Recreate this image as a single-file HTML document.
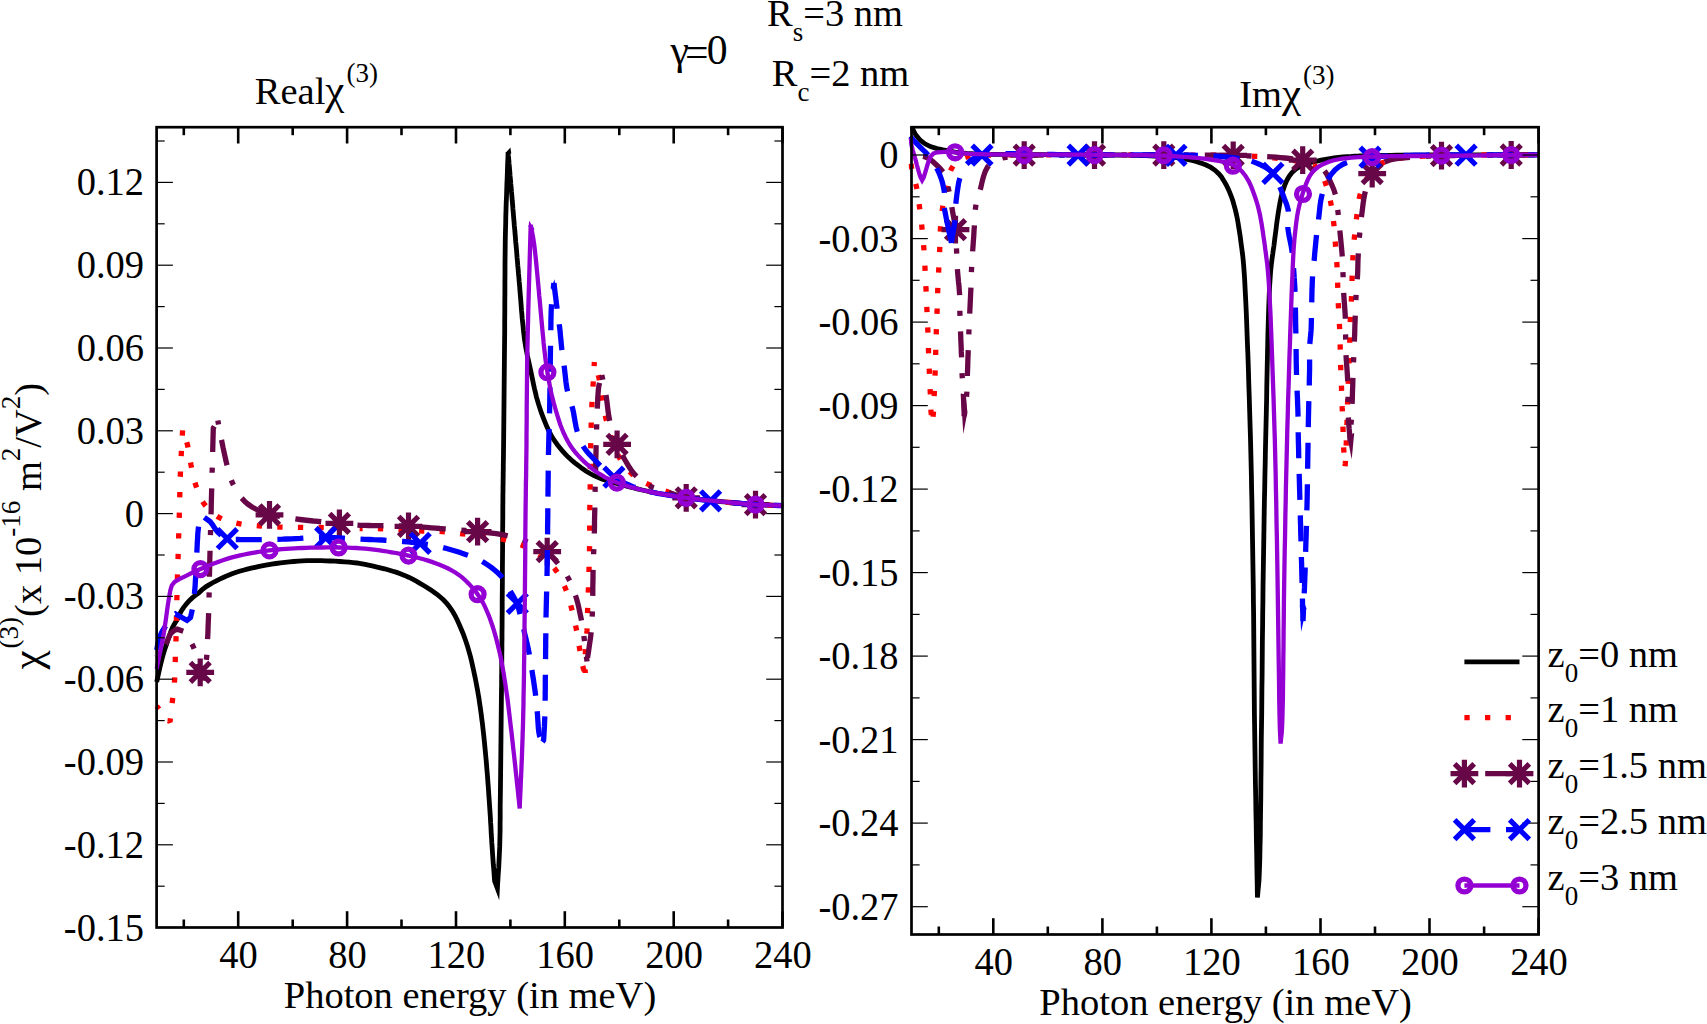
<!DOCTYPE html>
<html lang="en"><head><meta charset="utf-8"><title>Third-order susceptibility versus photon energy</title>
<style>html,body{margin:0;padding:0;background:#fff}body{width:1707px;height:1024px;overflow:hidden}</style>
</head><body>
<svg width="1707" height="1024" viewBox="0 0 1707 1024" style="display:block;font-family:'Liberation Serif', 'DejaVu Serif', serif;font-size:38.5px" fill="#000">
<rect width="1707" height="1024" fill="#fff"/>
<defs>
<clipPath id="cl"><rect x="153.6" y="127.2" width="629.9" height="800.3"/></clipPath>
<clipPath id="cr"><rect x="908.5" y="127.2" width="631.1" height="807.3"/></clipPath>
</defs>
<g clip-path="url(#cl)" fill="none" stroke-miterlimit="10">
<polyline stroke="#000000" stroke-width="4.8" stroke-linejoin="miter" points="156.7,682.0 157.8,677.0 158.9,672.0 160.0,667.0 161.2,662.2 162.4,657.4 163.7,652.8 165.0,648.6 166.4,644.6 167.8,640.5 169.3,635.9 170.9,631.3 172.6,627.2 174.7,623.5 176.9,620.0 179.0,615.6 181.3,611.0 183.7,607.4 186.5,603.8 189.5,600.5 192.5,597.7 195.7,595.2 198.8,592.8 202.2,589.7 206.2,586.6 209.0,584.9 212.2,583.0 215.8,581.1 219.7,579.1 223.8,577.2 227.9,575.4 232.0,573.8 235.6,572.5 239.4,571.3 243.2,570.2 247.2,569.2 251.2,568.2 255.2,567.3 259.2,566.4 263.2,565.6 267.2,564.9 271.6,564.1 276.0,563.5 280.5,562.9 285.0,562.3 289.4,561.9 293.8,561.5 298.1,561.2 302.3,560.9 307.2,560.7 312.0,560.6 316.7,560.6 321.3,560.7 325.7,560.9 330.0,561.0 335.1,561.2 339.9,561.5 344.6,561.8 349.2,562.2 353.1,562.6 356.9,563.0 360.7,563.6 365.1,564.4 368.5,565.1 372.2,565.9 376.1,566.8 380.3,567.8 384.5,568.8 388.7,570.0 392.8,571.2 396.7,572.4 400.3,573.7 404.6,575.4 408.6,577.2 412.6,579.2 416.3,581.2 420.0,583.3 423.7,585.5 427.3,587.7 430.9,590.1 434.4,592.5 437.7,594.9 440.8,597.5 443.6,600.0 446.5,603.1 449.0,606.1 451.2,609.3 453.4,612.8 455.3,616.2 457.1,619.7 458.8,623.5 460.4,627.2 462.0,631.0 463.5,634.7 464.8,638.3 466.1,642.0 467.4,646.0 468.7,650.3 469.6,653.7 470.6,657.2 471.5,661.0 472.4,665.0 473.3,669.0 474.2,673.2 475.1,677.4 475.9,681.6 476.7,685.8 477.5,690.0 478.2,694.1 478.9,698.2 479.5,702.3 480.1,706.4 480.7,710.6 481.3,714.9 481.8,719.1 482.4,723.5 482.9,727.9 483.4,732.4 483.9,736.9 484.4,741.9 484.9,747.0 485.4,752.2 485.9,757.6 486.4,763.0 486.8,768.4 487.3,773.9 487.7,779.3 488.1,784.7 488.5,789.9 488.8,795.0 489.2,800.0 489.5,804.6 489.8,809.0 490.1,813.5 490.4,817.9 490.6,822.2 490.9,826.5 491.1,830.7 491.3,834.8 491.6,838.9 491.8,842.9 492.1,846.9 492.4,851.4 492.7,855.8 493.0,860.1 493.3,864.3 493.7,868.5 494.0,872.6 494.3,876.8 494.6,881.0 497.4,888.5 497.6,884.4 497.9,880.2 498.1,876.1 498.4,872.0 498.7,867.9 498.9,863.7 499.1,859.6 499.3,855.4 499.5,851.2 499.7,846.9 499.8,842.8 499.9,838.8 500.0,834.8 500.1,830.9 500.1,826.9 500.1,822.8 500.2,818.6 500.2,814.3 500.2,809.8 500.2,805.0 500.3,800.0 500.4,792.4 500.5,784.1 500.6,775.2 500.7,765.8 500.8,756.2 500.9,746.3 501.0,736.4 501.1,726.5 501.2,716.8 501.3,707.4 501.4,698.4 501.5,690.0 501.6,683.7 501.6,677.6 501.7,671.8 501.7,666.2 501.8,660.7 501.8,655.2 501.9,649.7 501.9,644.1 502.0,638.4 502.0,632.6 502.1,626.4 502.1,620.0 502.2,610.9 502.2,601.1 502.3,590.8 502.4,580.0 502.4,569.0 502.5,558.0 502.6,547.1 502.6,536.4 502.7,526.2 502.8,516.7 502.8,507.9 502.9,500.0 502.9,495.2 503.0,491.0 503.0,487.1 503.1,483.5 503.1,480.0 503.2,476.5 503.2,472.9 503.3,469.0 503.3,464.8 503.4,460.0 503.5,452.2 503.6,443.7 503.7,434.4 503.8,424.6 503.9,414.3 504.0,403.7 504.1,392.9 504.2,382.0 504.3,371.1 504.4,360.4 504.5,350.0 504.6,340.0 504.7,330.6 504.7,321.2 504.8,311.7 504.8,302.3 504.9,292.9 504.9,283.5 505.0,274.3 505.0,265.1 505.1,256.1 505.2,247.2 505.3,238.5 505.5,230.0 505.7,223.0 505.8,216.2 506.0,209.6 506.2,203.0 506.5,196.6 506.7,190.2 506.9,183.8 507.2,177.5 507.4,171.2 507.6,164.8 507.9,158.5 508.1,152.0 508.4,156.0 508.8,160.0 509.1,164.0 509.5,168.0 509.8,172.0 510.1,176.0 510.5,180.0 510.8,184.0 511.2,188.0 511.5,192.0 511.9,196.1 512.2,200.3 512.6,204.5 512.9,208.7 513.3,212.9 513.6,217.1 514.0,221.2 514.3,225.2 514.7,229.2 515.0,233.0 515.4,237.4 515.7,241.7 516.1,245.8 516.5,249.9 516.8,253.9 517.1,257.9 517.5,262.0 517.8,266.0 518.2,270.0 518.5,273.9 518.9,277.9 519.2,281.9 519.6,285.9 519.9,290.0 520.2,293.9 520.6,298.0 520.9,302.1 521.2,306.2 521.5,310.4 521.9,314.4 522.2,318.3 522.6,322.0 523.1,326.6 523.5,331.0 524.0,335.2 524.5,339.5 525.2,343.9 525.9,348.0 526.7,352.1 527.5,356.2 528.5,360.5 529.4,364.8 530.4,369.3 531.2,373.0 532.0,376.8 532.8,380.7 533.6,384.7 534.5,388.8 535.5,392.8 536.4,396.8 537.5,400.6 538.6,404.4 540.1,408.9 541.6,413.4 543.3,417.8 545.0,422.1 546.7,426.3 548.5,430.1 550.3,433.7 552.6,437.8 555.0,441.4 557.4,444.7 560.0,448.0 562.6,451.2 565.3,454.2 568.2,457.1 571.4,460.0 574.8,462.8 578.5,465.7 582.3,468.6 586.2,471.2 590.0,473.5 594.0,475.6 597.9,477.4 601.8,478.9 605.5,480.3 611.0,482.0 616.9,483.5 620.4,484.4 624.2,485.5 628.4,486.6 632.8,487.7 637.4,488.9 642.0,490.0 646.6,491.0 650.3,491.8 654.2,492.5 658.1,493.3 662.2,494.0 666.2,494.7 670.3,495.4 674.4,496.0 678.4,496.7 682.3,497.2 686.2,497.8 690.5,498.4 694.8,498.9 699.0,499.4 703.2,499.8 707.4,500.3 711.5,500.7 715.8,501.1 720.0,501.5 724.4,501.9 728.9,502.4 733.4,502.8 738.0,503.2 742.5,503.6 746.9,504.0 751.3,504.3 755.5,504.6 760.3,504.9 765.0,505.1 769.6,505.2 774.2,505.4 778.7,505.5 783.3,505.7"/>
<polygon fill="#000000" stroke="none" points="505.7,152.8 510.4,147.5 511.3,153.5"/>
</g>
<g clip-path="url(#cl)" fill="none" stroke-miterlimit="10">
<polyline stroke="#ff0000" stroke-width="5.3" stroke-linejoin="bevel" stroke-dasharray="5.3 15.3" stroke-dashoffset="1.4" points="156.7,706.0 159.8,710.0 163.0,714.0 166.5,718.0 170.0,722.0 170.5,717.6 171.0,713.2 171.5,708.7 172.0,704.3 172.5,700.0 173.0,695.9 173.4,691.9 173.9,687.9 174.3,683.8 174.6,679.8 174.8,675.7 175.0,671.5 175.1,667.3 175.2,663.1 175.3,659.0 175.4,655.1 175.6,651.2 175.7,647.4 175.9,643.3 176.0,638.8 176.1,635.3 176.2,631.7 176.3,628.0 176.3,624.0 176.4,620.0 176.5,615.8 176.6,611.5 176.7,607.0 176.8,602.4 176.9,597.6 177.1,591.7 177.2,585.2 177.4,578.5 177.6,571.4 177.9,564.1 178.1,556.7 178.3,549.4 178.5,542.0 178.7,534.9 178.9,528.0 179.1,521.5 179.3,515.4 179.4,510.8 179.5,506.3 179.6,502.0 179.7,497.8 179.8,493.7 179.9,489.7 180.0,485.7 180.1,481.8 180.2,477.9 180.4,474.0 180.5,470.0 180.7,465.9 180.9,461.8 181.1,457.8 181.3,453.8 181.5,449.8 181.7,445.9 181.9,441.9 182.2,438.0 182.4,434.0 182.6,430.0"/>
<polyline stroke="#ff0000" stroke-width="5.3" stroke-linejoin="bevel" stroke-dasharray="5.3 15.3" stroke-dashoffset="7.6" points="182.6,430.0 184.3,434.9 186.0,439.7 187.5,444.9 188.3,448.7 189.0,452.7 189.6,456.8 190.3,460.9 191.0,465.0 191.8,469.0 192.6,473.0 193.5,477.0 194.5,481.0 195.7,484.9 197.0,488.8 198.4,492.7 200.0,496.6 201.8,500.3 203.9,503.7 207.0,507.6 210.5,511.2 214.4,514.5 218.5,517.2 222.1,519.0 225.9,520.4 229.8,521.6 233.9,522.5 237.9,523.4 241.9,524.1 246.0,524.7 250.1,525.1 254.3,525.5 258.4,525.8 262.4,526.1 266.3,526.4 270.2,526.6 274.3,526.8 278.9,527.0 282.4,527.1 286.2,527.2 290.2,527.2 294.3,527.3 298.5,527.3 302.8,527.3 307.2,527.4 311.5,527.4 315.7,527.4 319.9,527.5 324.0,527.6 328.1,527.7 332.2,527.8 336.3,527.9 340.4,528.0 344.6,528.1 348.7,528.3 352.8,528.4 356.9,528.5 361.0,528.6"/>
<polyline stroke="#ff0000" stroke-width="5.3" stroke-linejoin="bevel" stroke-dasharray="5.3 15.3" stroke-dashoffset="3.7" points="361.0,528.6 365.0,528.6 368.9,528.6 372.9,528.6 377.0,528.7 381.6,528.8 385.2,528.9 389.1,529.1 393.3,529.3 397.7,529.6 402.1,529.9 406.6,530.1 410.9,530.4 415.1,530.6 419.0,530.8 422.6,531.0 428.1,531.2 433.0,531.2 437.7,531.3 442.5,531.6 446.5,532.0 450.5,532.4 454.5,532.9 458.5,533.4 462.4,533.9 466.8,534.4 471.1,534.9 475.4,535.4 480.0,536.0 484.5,536.6 489.3,537.2 494.2,537.8 499.0,538.6 503.5,539.5 508.2,540.7 512.8,541.9 517.2,543.4 521.6,545.1 526.1,547.1 530.6,549.3 535.0,551.7 539.2,554.5 542.6,557.0 546.0,559.8 549.2,562.7 552.2,565.8 555.0,569.1 557.4,572.5 559.6,576.0 561.5,579.7 563.3,583.5 565.0,587.3 566.5,591.1 567.8,595.1 569.0,599.0 570.1,603.0 571.2,607.0 572.3,611.0 573.2,614.9 574.2,618.9 575.1,622.9 575.9,626.9 576.7,631.0 577.4,635.0 578.0,639.1 578.7,643.3 579.4,647.4 580.2,652.0 581.0,656.8 581.9,661.6 582.7,665.8 583.5,669.0 585.2,673.0"/>
<polyline stroke="#ff0000" stroke-width="5.3" stroke-linejoin="bevel" stroke-dasharray="5.3 15.3" stroke-dashoffset="1.9" points="585.2,673.0 585.2,668.6 585.2,664.1 585.2,659.7 585.3,655.3 585.4,650.9 585.6,646.7 586.0,642.6 586.4,638.5 586.7,634.5 587.0,630.4 587.2,625.4 587.3,620.5 587.5,615.5 587.6,610.5 587.7,606.4 587.9,602.4 588.1,598.4 588.2,594.1 588.4,589.4 588.5,585.9 588.6,582.1 588.8,578.2 588.9,574.1 589.0,569.9 589.1,565.7 589.2,561.4 589.3,557.1 589.4,552.9 589.5,548.8 589.6,544.6 589.6,540.4 589.6,536.0 589.7,531.7 589.7,527.4 589.7,523.1 589.7,519.0 589.7,515.0 589.8,511.2 589.8,507.7 589.9,503.2 590.0,499.3 590.0,495.5 590.1,491.5 590.2,487.0 590.2,483.4 590.3,479.6 590.3,475.6 590.4,471.4 590.4,467.1 590.5,462.7 590.5,458.4 590.6,454.0 590.6,449.7 590.7,445.5 590.8,441.4 590.9,437.1 591.0,432.9 591.1,428.6 591.2,424.4 591.3,420.2 591.5,416.1 591.6,412.2 591.8,408.5 591.9,405.0 592.1,400.5 592.4,396.3 592.6,392.4 592.9,388.6 593.1,384.5 593.4,380.1 593.6,375.6 593.9,371.1 594.1,366.5 594.4,362.0"/>
<polyline stroke="#ff0000" stroke-width="5.3" stroke-linejoin="bevel" stroke-dasharray="5.3 15.3" stroke-dashoffset="7.0" points="594.4,362.0 595.6,365.8 596.8,369.6 597.9,373.5 598.9,377.5 599.6,381.4 600.2,385.5 600.7,389.7 601.2,393.9 601.8,398.0 602.5,402.1 603.3,406.3 604.1,410.4 605.0,414.5 605.9,418.5 607.1,423.2 608.3,427.9 609.6,432.4 611.0,437.0 612.5,441.6 614.2,446.2 616.0,450.7 618.0,455.0 620.2,459.0 622.6,462.9 625.2,466.6 628.0,470.0 631.6,473.7 635.6,477.0 640.0,480.0 643.5,482.0 647.4,483.9 651.5,485.7 655.7,487.4 660.0,489.0 664.1,490.5 668.3,492.0 672.6,493.4 677.0,494.7 681.6,495.9 686.2,497.0 690.2,497.8 694.3,498.5 698.5,499.1 702.7,499.6 707.0,500.1 711.4,500.6 715.7,501.0 720.0,501.5 724.4,502.0 728.9,502.4 733.4,502.9 738.0,503.3 742.5,503.6 746.9,504.0 751.3,504.3 755.5,504.6 760.3,504.9 765.0,505.1 769.6,505.2 774.2,505.4 778.7,505.5 783.3,505.7"/>
</g>
<g clip-path="url(#cl)" fill="none" stroke-miterlimit="10">
<polyline stroke="#670748" stroke-width="5.3" stroke-linejoin="miter" stroke-dasharray="26 15.6 5.2 15.6" stroke-dashoffset="46.4" points="156.7,657.0 160.0,650.0 163.0,647.1 166.0,644.0 168.2,638.7 170.5,633.7 173.7,630.8 177.3,629.2 183.5,631.3 188.0,637.0 190.7,641.4 193.1,646.3 194.6,650.0 195.8,653.9 197.0,658.0 198.1,662.8 199.1,667.8 200.2,672.3 201.6,676.6 203.0,680.5"/>
<polyline stroke="#670748" stroke-width="5.3" stroke-linejoin="miter" stroke-dasharray="26 15.6 5.2 15.6" stroke-dashoffset="20.7" points="203.0,680.5 203.8,675.7 204.6,670.9 205.4,666.1 206.1,661.4 206.7,656.9 207.1,652.3 207.3,647.9 207.4,643.5 207.6,638.8 207.8,634.8 208.0,630.5 208.1,626.1 208.3,621.7 208.5,617.5 208.6,613.4 208.7,608.7 208.9,604.3 209.0,599.9 209.1,594.9 209.2,591.1 209.3,587.0 209.3,582.8 209.4,578.4 209.5,573.9 209.6,569.3 209.7,564.6 209.8,560.0 209.9,556.2 210.0,552.4 210.1,548.6 210.2,544.8 210.3,540.9 210.4,537.0 210.5,532.9 210.6,528.8 210.8,524.5 210.9,520.0 211.0,515.4 211.2,509.1 211.3,502.5 211.5,495.6 211.7,488.5 211.9,481.1 212.1,473.6 212.3,465.9 212.5,458.3 212.7,450.6 212.9,443.0 213.1,435.5 213.3,428.1 217.8,420.5"/>
<polyline stroke="#670748" stroke-width="5.3" stroke-linejoin="miter" stroke-dasharray="26 15.6 5.2 15.6" stroke-dashoffset="42.7" points="217.8,420.5 218.7,425.3 219.6,430.0 220.5,434.8 221.5,439.8 222.3,443.7 223.1,447.8 224.0,451.9 224.9,456.0 225.8,460.1 226.7,463.9 227.9,468.7 229.0,473.3 230.4,477.7 232.0,482.0 234.0,486.2 236.3,490.4 238.7,494.3 241.4,497.8 244.6,501.3 248.1,504.3 252.0,507.0 256.0,509.2 260.4,511.1 265.0,512.9 269.5,514.8"/>
<polyline stroke="#670748" stroke-width="5.3" stroke-linejoin="miter" stroke-dasharray="26 15.6 5.2 15.6" stroke-dashoffset="36.2" points="269.5,514.8 273.8,515.5 278.1,516.2 282.4,516.9 286.6,517.6 291.0,518.2 295.4,518.9 300.0,519.5 304.2,520.0 308.7,520.5 313.3,521.0 318.0,521.4 322.6,521.9 327.2,522.3 331.6,522.7 335.7,523.0 339.4,523.4 344.2,523.9 348.3,524.3 352.5,524.7 357.5,525.1 360.9,525.3 364.6,525.4 368.6,525.5 372.9,525.6 377.4,525.6 382.0,525.7 386.6,525.8 391.2,525.8 395.8,525.9 400.2,526.0 404.5,526.1 408.5,526.3 413.3,526.5 417.9,526.8 422.4,527.1 426.8,527.4 431.2,527.8 435.5,528.1 439.8,528.5 444.2,528.8 448.5,529.1 452.7,529.4 457.0,529.8 461.2,530.1 465.4,530.5 469.5,530.8 473.6,531.2 477.6,531.6 482.3,532.1 487.0,532.6 491.7,533.1 496.2,533.7 500.5,534.4 504.6,535.1 509.2,536.1 513.5,537.1 517.7,538.3 522.2,539.8 526.2,541.4 530.3,543.2 534.5,545.3 538.7,547.4 543.0,549.6 547.2,551.6"/>
<polyline stroke="#670748" stroke-width="5.3" stroke-linejoin="miter" stroke-dasharray="26 15.6 5.2 15.6" stroke-dashoffset="9.8" points="547.2,551.6 550.5,555.2 553.8,558.8 557.0,562.4 560.0,566.0 563.1,570.1 565.9,574.1 568.5,578.5 570.5,582.4 572.3,586.6 573.9,590.9 575.5,595.5 576.7,599.3 577.8,603.4 578.8,607.7 579.7,611.9 580.6,616.1 581.4,620.0 582.2,624.6 582.9,629.0 583.5,633.4 584.1,638.0 584.7,642.5 585.3,647.2 585.8,651.9 586.4,656.7 587.0,661.5"/>
<polyline stroke="#670748" stroke-width="5.3" stroke-linejoin="miter" stroke-dasharray="26 15.6 5.2 15.6" stroke-dashoffset="58.8" points="587.0,661.5 587.6,657.3 588.3,653.1 588.9,648.8 589.5,644.6 590.1,640.5 590.7,636.5 591.1,632.7 591.5,627.9 591.8,623.6 592.1,619.1 592.3,614.0 592.4,610.3 592.5,606.2 592.6,601.8 592.7,597.2 592.8,592.5 592.8,587.7 592.9,583.1 593.0,578.7 593.0,574.6 593.1,570.9 593.2,565.7 593.4,561.0 593.5,556.6 593.7,552.1 593.9,547.7 594.0,543.5 594.2,539.1 594.3,534.0 594.4,530.4 594.5,526.5 594.5,522.3 594.6,518.0 594.7,513.4 594.8,508.8 594.9,504.2 594.9,499.7 595.0,495.2 595.1,490.9 595.2,486.5 595.3,482.0 595.4,477.6 595.5,473.2 595.6,468.8 595.7,464.5 595.8,460.4 595.9,456.3 596.0,452.5 596.1,447.4 596.2,442.6 596.4,437.9 596.5,433.4 596.6,429.0 596.7,424.2 596.8,419.7 597.0,415.1 597.2,410.3 597.4,406.3 597.6,402.0 597.8,397.6 598.1,393.3 598.4,389.2 598.9,385.7 600.3,380.1 601.8,375.0"/>
<polyline stroke="#670748" stroke-width="5.3" stroke-linejoin="miter" stroke-dasharray="26 15.6 5.2 15.6" stroke-dashoffset="41.9" points="601.8,375.0 602.7,379.0 603.5,382.9 604.4,386.9 605.2,390.9 606.0,395.1 606.6,399.1 607.1,403.1 607.6,407.3 608.1,411.4 608.7,415.6 609.5,419.7 610.5,423.9 611.6,428.1 612.9,432.4 614.2,436.5 615.7,440.5 617.1,444.3 619.0,448.7 621.0,452.8 623.1,456.7 625.3,460.5 627.4,464.1 629.5,467.6 631.8,471.0 634.4,474.2 637.6,477.4 641.2,480.4 644.9,483.2 648.9,485.6 653.0,487.5 657.4,489.0 661.9,490.3 666.4,491.7 670.2,493.0 673.9,494.3 677.8,495.6 681.8,496.8 686.2,497.8 690.0,498.5 694.0,499.1 698.1,499.6 702.5,500.0 706.8,500.4 711.3,500.7 715.7,501.1 720.0,501.5 724.4,501.9 728.9,502.4 733.4,502.8 738.0,503.2 742.5,503.6 746.9,504.0 751.3,504.3 755.5,504.6 760.3,504.9 765.0,505.1 769.6,505.2 774.2,505.4 778.7,505.5 783.3,505.7"/>
</g>
<path transform="translate(200.2,672.3)" d="M-13.9,0H13.9M0,-13.9V13.9M-9.8,-9.8L9.8,9.8M-9.8,9.8L9.8,-9.8" stroke="#670748" stroke-width="5.2" fill="none"/>
<path transform="translate(269.5,514.8)" d="M-13.9,0H13.9M0,-13.9V13.9M-9.8,-9.8L9.8,9.8M-9.8,9.8L9.8,-9.8" stroke="#670748" stroke-width="5.2" fill="none"/>
<path transform="translate(339.4,523.4)" d="M-13.9,0H13.9M0,-13.9V13.9M-9.8,-9.8L9.8,9.8M-9.8,9.8L9.8,-9.8" stroke="#670748" stroke-width="5.2" fill="none"/>
<path transform="translate(408.5,526.3)" d="M-13.9,0H13.9M0,-13.9V13.9M-9.8,-9.8L9.8,9.8M-9.8,9.8L9.8,-9.8" stroke="#670748" stroke-width="5.2" fill="none"/>
<path transform="translate(477.6,531.6)" d="M-13.9,0H13.9M0,-13.9V13.9M-9.8,-9.8L9.8,9.8M-9.8,9.8L9.8,-9.8" stroke="#670748" stroke-width="5.2" fill="none"/>
<path transform="translate(547.2,551.6)" d="M-13.9,0H13.9M0,-13.9V13.9M-9.8,-9.8L9.8,9.8M-9.8,9.8L9.8,-9.8" stroke="#670748" stroke-width="5.2" fill="none"/>
<path transform="translate(617.1,444.3)" d="M-13.9,0H13.9M0,-13.9V13.9M-9.8,-9.8L9.8,9.8M-9.8,9.8L9.8,-9.8" stroke="#670748" stroke-width="5.2" fill="none"/>
<path transform="translate(686.2,497.8)" d="M-13.9,0H13.9M0,-13.9V13.9M-9.8,-9.8L9.8,9.8M-9.8,9.8L9.8,-9.8" stroke="#670748" stroke-width="5.2" fill="none"/>
<path transform="translate(755.5,504.6)" d="M-13.9,0H13.9M0,-13.9V13.9M-9.8,-9.8L9.8,9.8M-9.8,9.8L9.8,-9.8" stroke="#670748" stroke-width="5.2" fill="none"/>
<g clip-path="url(#cl)" fill="none" stroke-miterlimit="10">
<polyline stroke="#0000ff" stroke-width="5.3" stroke-linejoin="miter" stroke-dasharray="26 15.6" stroke-dashoffset="41.6" points="156.7,650.0 157.6,645.4 158.5,640.7 159.8,636.4 162.1,631.6 165.0,627.0 167.3,623.3 170.0,619.1 172.8,615.6 175.4,613.9 181.0,617.0 187.0,620.3 190.5,617.5 191.5,613.2 192.5,608.6 193.1,604.9 193.6,600.9 194.1,596.7 194.5,592.6 194.9,588.6 195.2,584.6 195.4,580.5 195.7,576.2 195.9,572.4 196.1,568.4 196.3,564.2 196.5,560.0 196.7,555.8 196.9,551.6 197.1,547.2 197.3,542.6 197.6,538.0 197.8,533.6 198.2,529.6 198.6,526.4 200.5,520.0 204.3,517.3"/>
<polyline stroke="#0000ff" stroke-width="5.3" stroke-linejoin="miter" stroke-dasharray="26 15.6" stroke-dashoffset="1.1" points="204.3,517.3 210.0,521.5 212.6,524.9 215.2,528.9 218.0,532.5 222.4,536.2 227.3,538.7 232.1,539.5 237.9,539.5 240.9,539.6 244.3,539.6 248.0,539.7 252.0,539.7 256.3,539.6 260.7,539.6 265.1,539.5 269.6,539.5 274.0,539.4 278.3,539.3 282.5,539.2 286.8,539.0 291.2,538.8 295.6,538.6 300.0,538.4 304.4,538.1 308.8,537.9 313.2,537.7 317.5,537.6 321.7,537.5 325.7,537.5 330.3,537.6 334.9,537.7 339.4,537.9 343.8,538.2 348.1,538.5 352.3,538.7 356.4,539.0 360.5,539.2 365.0,539.4 369.2,539.5 373.4,539.7 377.5,539.8 381.8,540.0 386.2,540.3 390.3,540.6 394.5,540.9 398.9,541.2 403.4,541.5 407.8,541.9 412.1,542.3 416.3,542.8 420.2,543.3 425.0,544.0 429.4,544.7 433.8,545.5 438.1,546.4 442.5,547.4 446.6,548.5 450.9,549.7 455.2,551.0 459.4,552.3 463.4,553.7 467.1,555.0 472.0,556.7 476.5,558.5 481.1,560.8 484.4,562.8 488.0,565.1 491.6,567.7 495.1,570.5 498.3,573.3 501.1,576.1 503.9,579.8 506.3,583.7 508.3,587.6 510.4,591.3 512.8,595.4 515.0,599.4 517.3,603.4"/>
<polyline stroke="#0000ff" stroke-width="5.3" stroke-linejoin="miter" stroke-dasharray="26 15.6" stroke-dashoffset="15.0" points="517.3,603.4 518.4,607.7 519.5,612.0 520.6,616.4 521.6,620.7 522.7,625.0 523.7,629.2 524.8,634.0 526.0,638.8 527.1,643.5 528.1,648.1 529.0,652.6 529.8,657.1 530.5,661.4 531.2,665.7 531.9,670.2 532.6,674.7 533.4,679.5 534.1,684.4 534.8,689.2 535.4,693.7 535.9,698.2 536.4,702.4 536.8,706.6 537.2,711.1 537.5,715.1 537.8,719.6 538.1,724.2 538.4,728.6 538.9,732.5 539.5,735.7 542.4,742.0"/>
<polyline stroke="#0000ff" stroke-width="5.3" stroke-linejoin="miter" stroke-dasharray="26 15.6" stroke-dashoffset="41.5" points="542.4,742.0 543.6,740.4 543.9,735.8 544.1,731.4 544.4,726.9 544.6,722.1 544.8,717.0 544.9,713.3 545.0,709.5 545.1,705.5 545.1,701.4 545.2,697.1 545.2,692.8 545.3,688.4 545.3,683.9 545.3,679.4 545.4,674.9 545.5,670.4 545.5,665.7 545.5,661.0 545.6,656.1 545.6,651.1 545.7,646.2 545.7,641.2 545.8,636.3 545.8,631.4 545.9,626.6 545.9,622.0 546.0,617.5 546.1,613.1 546.2,609.0 546.3,605.0 546.4,601.1 546.5,597.2 546.6,593.3 546.7,589.3 546.8,585.1 546.9,580.8 547.0,576.2 547.1,570.8 547.2,565.1 547.3,559.2 547.3,553.1 547.4,546.8 547.5,540.4 547.6,534.0 547.6,527.5 547.7,521.1 547.8,514.6 547.8,508.3 547.9,502.0"/>
<polyline stroke="#0000ff" stroke-width="5.3" stroke-linejoin="miter" stroke-dasharray="26 15.6" stroke-dashoffset="36.2" points="547.9,502.0 547.9,497.9 548.0,493.7 548.0,489.5 548.1,485.3 548.1,481.1 548.2,477.0 548.2,472.8 548.3,468.7 548.3,464.5 548.4,460.5 548.4,456.5 548.5,452.5 548.6,448.3 548.7,444.3 548.8,440.4 548.9,436.5 549.0,432.6 549.1,428.7 549.3,424.7 549.4,420.5 549.5,416.1 549.6,411.5 549.7,405.5 549.8,399.0 549.9,392.0 550.0,384.7 550.1,377.2 550.2,369.6 550.3,362.1 550.4,354.8 550.5,347.8 550.6,341.3 550.7,335.4 550.8,330.2 550.9,325.3 550.9,321.1 551.0,317.2 551.1,313.5 551.2,309.8 551.4,306.0 551.8,301.4 552.3,296.8 552.8,292.2 553.4,287.6 553.9,283.0"/>
<polyline stroke="#0000ff" stroke-width="5.3" stroke-linejoin="miter" stroke-dasharray="26 15.6" stroke-dashoffset="0.0" points="553.9,283.0 554.5,287.5 555.0,292.1 555.6,296.7 556.1,301.2 556.7,305.6 557.2,309.7 557.8,314.3 558.4,318.5 559.0,322.7 559.6,327.2 560.1,331.6 560.5,336.2 561.0,340.9 561.4,345.6 561.9,350.0 562.5,354.6 563.1,359.1 563.8,363.5 564.4,368.1 564.9,372.5 565.4,377.0 565.9,381.6 566.5,386.1 567.3,390.4 568.5,395.0 569.9,399.4 571.3,403.9 572.6,408.5 573.6,413.0 574.4,417.7 575.2,422.4 576.1,427.1 577.2,431.4 578.5,435.7 580.0,439.7 581.7,443.5 583.7,447.2 586.2,450.7 589.0,453.9 591.9,457.0 594.8,460.0 598.2,463.5 601.6,466.9 605.0,470.0 609.2,473.7 613.9,477.2 617.5,479.4 621.6,481.6 625.8,483.6 630.0,485.5 633.9,487.1 637.8,488.5 641.9,489.7 646.6,491.0 649.9,491.8 653.5,492.5 657.3,493.3 661.3,494.0 665.5,494.7 669.7,495.4 674.0,496.0 678.2,496.7 682.3,497.2 686.2,497.8 690.5,498.4 694.8,498.9 699.0,499.4 703.2,499.8 707.4,500.3 711.5,500.7 715.8,501.1 720.0,501.5 724.4,501.9 728.9,502.4 733.4,502.8 738.0,503.2 742.5,503.6 746.9,504.0 751.3,504.3 755.5,504.6 760.3,504.9 765.0,505.1 769.6,505.2 774.2,505.4 778.7,505.5 783.3,505.7"/>
<polygon fill="#0000ff" stroke="none" points="551.3,289.5 554.3,279.2 557.1,292.0"/>
</g>
<path transform="translate(227.3,538.7)" d="M-9.8,-9.8L9.8,9.8M-9.8,9.8L9.8,-9.8" stroke="#0000ff" stroke-width="5.2" fill="none"/>
<path transform="translate(325.7,537.5)" d="M-9.8,-9.8L9.8,9.8M-9.8,9.8L9.8,-9.8" stroke="#0000ff" stroke-width="5.2" fill="none"/>
<path transform="translate(420.2,543.3)" d="M-9.8,-9.8L9.8,9.8M-9.8,9.8L9.8,-9.8" stroke="#0000ff" stroke-width="5.2" fill="none"/>
<path transform="translate(517.3,603.4)" d="M-9.8,-9.8L9.8,9.8M-9.8,9.8L9.8,-9.8" stroke="#0000ff" stroke-width="5.2" fill="none"/>
<path transform="translate(613.9,477.2)" d="M-9.8,-9.8L9.8,9.8M-9.8,9.8L9.8,-9.8" stroke="#0000ff" stroke-width="5.2" fill="none"/>
<path transform="translate(710.6,500.8)" d="M-9.8,-9.8L9.8,9.8M-9.8,9.8L9.8,-9.8" stroke="#0000ff" stroke-width="5.2" fill="none"/>
<g clip-path="url(#cl)" fill="none" stroke-miterlimit="5">
<polyline stroke="#9400d3" stroke-width="4.3" stroke-linejoin="miter" points="156.7,669.0 157.4,665.2 158.2,661.0 158.9,657.5 159.8,653.4 160.8,649.0 161.7,644.4 162.6,640.0 163.4,635.4 164.2,630.6 164.9,625.9 165.6,621.3 166.2,617.0 166.9,611.7 167.6,606.7 168.3,602.0 169.3,596.2 170.3,590.5 171.8,585.5 174.6,582.0 179.2,579.2 185.0,576.3 188.5,574.6 192.1,572.8 196.1,571.0 200.4,569.1 203.8,567.7 207.4,566.2 211.2,564.6 215.3,563.1 219.4,561.5 223.6,560.0 227.8,558.6 232.0,557.4 236.0,556.4 240.1,555.4 244.3,554.5 248.5,553.7 252.8,552.9 257.0,552.2 261.2,551.5 265.4,550.9 269.5,550.4 273.7,549.9 277.8,549.5 281.9,549.1 285.9,548.8 290.0,548.6 294.0,548.4 298.1,548.2 302.3,548.0 306.3,547.8 310.3,547.7 314.4,547.6 318.5,547.5 322.6,547.5 326.6,547.4 330.7,547.4 334.7,547.4 338.6,547.5 343.2,547.6 347.6,547.7 352.0,547.8 356.3,548.0 360.7,548.3 365.2,548.6 369.8,549.1 374.0,549.6 378.3,550.2 382.7,550.8 387.1,551.5 391.6,552.3 396.0,553.0 400.3,553.9 404.5,554.7 408.5,555.6 412.7,556.5 416.7,557.5 420.6,558.5 424.4,559.5 428.1,560.6 431.8,561.9 435.5,563.2 439.6,564.8 443.7,566.5 447.7,568.3 451.6,570.3 455.3,572.5 458.9,574.9 462.4,577.6 465.8,580.7 469.0,583.9 472.1,587.3 475.0,590.7 477.6,594.2 480.2,598.1 482.6,602.1 484.7,606.1 486.6,610.5 488.6,615.1 489.9,618.6 491.2,622.2 492.5,626.0 493.7,629.9 494.9,633.9 496.0,638.0 497.1,642.1 498.1,646.2 499.1,650.3 500.0,654.1 500.8,658.0 501.6,661.9 502.3,665.8 503.0,669.8 503.7,673.7 504.3,677.7 505.0,681.8 505.6,685.9 506.2,690.0 506.8,694.1 507.4,698.1 507.9,702.2 508.4,706.3 508.9,710.5 509.4,714.7 509.9,718.9 510.4,723.3 510.9,727.7 511.5,732.2 512.0,736.9 512.6,742.3 513.2,748.0 513.9,753.7 514.5,759.6 515.2,765.7 515.8,771.8 516.5,777.9 517.1,784.1 517.8,790.2 518.4,796.4 519.1,802.5 519.7,808.5 519.9,802.5 520.2,796.4 520.5,790.2 520.7,784.1 521.0,777.9 521.3,771.8 521.5,765.7 521.8,759.7 522.0,753.7 522.2,748.0 522.4,742.3 522.6,736.9 522.7,732.3 522.9,727.9 523.0,723.7 523.1,719.5 523.2,715.4 523.3,711.4 523.4,707.3 523.5,703.2 523.5,699.0 523.6,694.6 523.7,690.0 523.8,684.7 523.9,679.4 524.0,673.9 524.0,668.4 524.1,662.8 524.2,657.0 524.3,651.2 524.3,645.2 524.4,639.1 524.5,632.9 524.5,626.5 524.6,620.0 524.7,610.9 524.8,601.1 524.9,590.8 525.0,580.0 525.1,569.0 525.2,558.0 525.3,547.1 525.3,536.4 525.4,526.2 525.5,516.7 525.6,507.9 525.7,500.0 525.8,495.2 525.8,490.9 525.9,487.0 525.9,483.4 526.0,479.9 526.1,476.4 526.1,472.8 526.2,468.9 526.2,464.7 526.3,460.0 526.4,452.8 526.5,444.9 526.5,436.5 526.6,427.6 526.7,418.4 526.7,408.8 526.8,399.1 526.9,389.2 527.0,379.3 527.1,369.4 527.2,359.6 527.4,350.0 527.6,339.9 527.8,329.6 528.1,319.3 528.3,308.9 528.6,298.5 528.9,288.0 529.2,277.5 529.5,267.0 529.8,256.4 530.1,245.9 530.4,235.4 530.7,225.0 531.5,228.9 532.2,232.7 533.0,236.8 533.8,241.7 534.3,245.3 534.8,249.5 535.3,253.9 535.8,258.8 536.3,263.8 536.8,269.1 537.3,274.4 537.8,279.8 538.3,285.1 538.8,290.4 539.2,295.5 539.7,300.3 540.1,304.6 540.5,309.0 540.9,313.5 541.3,317.9 541.7,322.3 542.1,326.6 542.5,330.9 542.9,335.1 543.3,339.1 543.6,342.9 544.0,346.6 544.4,350.0 545.0,355.0 545.5,359.4 546.1,363.6 546.7,367.8 547.4,372.2 548.1,376.5 548.9,380.8 549.7,385.2 550.5,389.6 551.5,394.1 552.6,398.6 553.7,402.9 555.0,407.5 556.3,412.0 557.7,416.6 559.1,421.0 560.5,425.2 562.0,429.0 563.9,433.5 565.8,437.5 567.8,441.3 570.0,445.0 572.4,448.5 575.0,451.8 577.8,455.1 580.8,458.3 583.9,461.4 587.2,464.5 590.7,467.5 594.3,470.4 598.0,473.0 601.6,475.2 605.2,477.3 608.9,479.2 612.8,480.9 616.9,482.6 620.7,484.0 624.7,485.3 628.9,486.6 633.1,487.7 637.6,488.9 642.0,490.0 646.6,491.0 650.3,491.8 654.2,492.6 658.1,493.3 662.1,494.1 666.2,494.8 670.3,495.4 674.3,496.1 678.4,496.7 682.3,497.3 686.2,497.8 690.5,498.4 694.8,498.9 699.0,499.4 703.2,499.8 707.4,500.3 711.5,500.7 715.8,501.1 720.0,501.5 724.4,501.9 728.9,502.4 733.4,502.8 738.0,503.2 742.5,503.6 746.9,504.0 751.3,504.3 755.5,504.6 760.3,504.9 765.0,505.1 769.6,505.2 774.2,505.4 778.7,505.5 783.3,505.7"/>
<polygon fill="#9400d3" stroke="none" points="528.6,226.5 529.1,220.8 534.4,229.0 533.2,232.0"/>
</g>
<circle cx="200.4" cy="569.1" r="6.45" stroke="#9400d3" stroke-width="5.3" fill="none"/>
<circle cx="269.5" cy="550.4" r="6.45" stroke="#9400d3" stroke-width="5.3" fill="none"/>
<circle cx="338.6" cy="547.5" r="6.45" stroke="#9400d3" stroke-width="5.3" fill="none"/>
<circle cx="408.5" cy="555.6" r="6.45" stroke="#9400d3" stroke-width="5.3" fill="none"/>
<circle cx="477.6" cy="594.2" r="6.45" stroke="#9400d3" stroke-width="5.3" fill="none"/>
<circle cx="547.4" cy="372.2" r="6.45" stroke="#9400d3" stroke-width="5.3" fill="none"/>
<circle cx="616.9" cy="482.6" r="6.45" stroke="#9400d3" stroke-width="5.3" fill="none"/>
<circle cx="686.2" cy="497.8" r="6.45" stroke="#9400d3" stroke-width="5.3" fill="none"/>
<circle cx="755.5" cy="504.6" r="6.45" stroke="#9400d3" stroke-width="5.3" fill="none"/>
<g stroke="#000" stroke-width="2.6"><line x1="183.8" y1="127.2" x2="183.8" y2="135.2"/><line x1="183.8" y1="927.5" x2="183.8" y2="919.5"/><line x1="238.2" y1="127.2" x2="238.2" y2="143.5"/><line x1="238.2" y1="927.5" x2="238.2" y2="911.2"/><line x1="292.7" y1="127.2" x2="292.7" y2="135.2"/><line x1="292.7" y1="927.5" x2="292.7" y2="919.5"/><line x1="347.1" y1="127.2" x2="347.1" y2="143.5"/><line x1="347.1" y1="927.5" x2="347.1" y2="911.2"/><line x1="401.5" y1="127.2" x2="401.5" y2="135.2"/><line x1="401.5" y1="927.5" x2="401.5" y2="919.5"/><line x1="456.0" y1="127.2" x2="456.0" y2="143.5"/><line x1="456.0" y1="927.5" x2="456.0" y2="911.2"/><line x1="510.4" y1="127.2" x2="510.4" y2="135.2"/><line x1="510.4" y1="927.5" x2="510.4" y2="919.5"/><line x1="564.8" y1="127.2" x2="564.8" y2="143.5"/><line x1="564.8" y1="927.5" x2="564.8" y2="911.2"/><line x1="619.3" y1="127.2" x2="619.3" y2="135.2"/><line x1="619.3" y1="927.5" x2="619.3" y2="919.5"/><line x1="673.7" y1="127.2" x2="673.7" y2="143.5"/><line x1="673.7" y1="927.5" x2="673.7" y2="911.2"/><line x1="728.1" y1="127.2" x2="728.1" y2="135.2"/><line x1="728.1" y1="927.5" x2="728.1" y2="919.5"/><line x1="782.5" y1="127.2" x2="782.5" y2="143.5"/><line x1="782.5" y1="927.5" x2="782.5" y2="911.2"/></g>
<g stroke="#000" stroke-width="1.2"><line x1="156.6" y1="182.4" x2="172.9" y2="182.4"/><line x1="782.5" y1="182.4" x2="766.2" y2="182.4"/><line x1="156.6" y1="265.2" x2="172.9" y2="265.2"/><line x1="782.5" y1="265.2" x2="766.2" y2="265.2"/><line x1="156.6" y1="348.0" x2="172.9" y2="348.0"/><line x1="782.5" y1="348.0" x2="766.2" y2="348.0"/><line x1="156.6" y1="430.8" x2="172.9" y2="430.8"/><line x1="782.5" y1="430.8" x2="766.2" y2="430.8"/><line x1="156.6" y1="513.6" x2="172.9" y2="513.6"/><line x1="782.5" y1="513.6" x2="766.2" y2="513.6"/><line x1="156.6" y1="596.4" x2="172.9" y2="596.4"/><line x1="782.5" y1="596.4" x2="766.2" y2="596.4"/><line x1="156.6" y1="679.2" x2="172.9" y2="679.2"/><line x1="782.5" y1="679.2" x2="766.2" y2="679.2"/><line x1="156.6" y1="762.0" x2="172.9" y2="762.0"/><line x1="782.5" y1="762.0" x2="766.2" y2="762.0"/><line x1="156.6" y1="844.8" x2="172.9" y2="844.8"/><line x1="782.5" y1="844.8" x2="766.2" y2="844.8"/><line x1="156.6" y1="141.0" x2="164.7" y2="141.0"/><line x1="782.5" y1="141.0" x2="774.4" y2="141.0"/><line x1="156.6" y1="223.8" x2="164.7" y2="223.8"/><line x1="782.5" y1="223.8" x2="774.4" y2="223.8"/><line x1="156.6" y1="306.6" x2="164.7" y2="306.6"/><line x1="782.5" y1="306.6" x2="774.4" y2="306.6"/><line x1="156.6" y1="389.4" x2="164.7" y2="389.4"/><line x1="782.5" y1="389.4" x2="774.4" y2="389.4"/><line x1="156.6" y1="472.2" x2="164.7" y2="472.2"/><line x1="782.5" y1="472.2" x2="774.4" y2="472.2"/><line x1="156.6" y1="555.0" x2="164.7" y2="555.0"/><line x1="782.5" y1="555.0" x2="774.4" y2="555.0"/><line x1="156.6" y1="637.8" x2="164.7" y2="637.8"/><line x1="782.5" y1="637.8" x2="774.4" y2="637.8"/><line x1="156.6" y1="720.6" x2="164.7" y2="720.6"/><line x1="782.5" y1="720.6" x2="774.4" y2="720.6"/><line x1="156.6" y1="803.4" x2="164.7" y2="803.4"/><line x1="782.5" y1="803.4" x2="774.4" y2="803.4"/><line x1="156.6" y1="886.2" x2="164.7" y2="886.2"/><line x1="782.5" y1="886.2" x2="774.4" y2="886.2"/></g>
<rect x="156.6" y="127.2" width="625.9" height="800.3" fill="none" stroke="#000" stroke-width="2.7"/>
<g clip-path="url(#cr)" fill="none" stroke-miterlimit="10">
<polyline stroke="#000000" stroke-width="4.8" stroke-linejoin="miter" points="911.3,120.0 911.8,124.5 912.6,128.8 915.5,134.5 920.2,140.2 925.0,143.8 930.4,146.6 937.0,148.6 943.1,149.9 950.0,151.2 954.7,152.0 960.0,152.8 963.4,153.1 967.1,153.4 971.1,153.6 975.4,153.8 980.0,154.0 983.3,154.1 986.8,154.2 990.5,154.3 994.4,154.3 998.3,154.4 1002.4,154.4 1006.6,154.5 1010.9,154.5 1015.3,154.5 1019.7,154.6 1024.2,154.6 1029.5,154.6 1035.1,154.7 1040.8,154.7 1046.7,154.7 1052.8,154.7 1058.9,154.7 1065.0,154.7 1071.1,154.7 1077.1,154.7 1083.1,154.7 1088.9,154.8 1094.5,154.8 1099.4,154.8 1104.3,154.9 1109.2,154.9 1114.1,155.0 1119.0,155.0 1123.7,155.1 1128.4,155.2 1133.0,155.3 1137.5,155.4 1141.8,155.5 1146.0,155.6 1150.0,155.8 1154.9,156.0 1159.5,156.3 1164.0,156.6 1168.3,156.9 1172.4,157.2 1176.3,157.6 1180.0,158.1 1184.4,158.8 1188.4,159.6 1192.2,160.4 1196.0,161.5 1201.1,163.1 1206.1,165.0 1210.5,167.2 1215.1,170.3 1219.0,174.0 1221.5,177.0 1223.6,180.4 1225.7,184.0 1227.8,188.1 1229.7,192.4 1231.5,197.0 1232.9,201.0 1234.1,205.3 1235.3,209.7 1236.4,214.4 1237.3,218.6 1238.1,223.1 1238.8,227.7 1239.6,232.5 1240.3,237.2 1240.9,241.9 1241.4,245.7 1241.9,249.2 1242.3,252.7 1242.8,256.3 1243.2,260.3 1243.6,264.8 1244.0,270.0 1244.6,278.6 1245.1,288.7 1245.7,300.2 1246.3,312.8 1246.8,326.2 1247.3,340.3 1247.9,354.8 1248.4,369.5 1248.8,384.3 1249.3,398.7 1249.7,412.7 1250.1,426.0 1250.5,438.6 1250.8,451.2 1251.1,463.7 1251.4,476.2 1251.6,488.7 1251.9,501.2 1252.1,513.6 1252.3,526.1 1252.5,538.6 1252.7,551.0 1252.9,563.5 1253.1,576.0 1253.3,588.5 1253.4,600.9 1253.6,613.3 1253.7,625.6 1253.8,638.0 1253.9,650.4 1254.0,662.8 1254.1,675.3 1254.2,687.8 1254.3,700.4 1254.4,713.1 1254.6,726.0 1254.8,739.9 1255.0,753.9 1255.2,768.1 1255.4,782.3 1255.7,796.6 1255.9,811.0 1256.2,825.5 1256.4,839.9 1256.7,854.4 1256.9,868.8 1257.2,883.2 1257.4,897.5 1257.8,893.5 1258.1,889.8 1258.5,886.0 1258.9,881.5 1259.2,876.0 1259.5,868.2 1259.8,858.8 1260.0,848.0 1260.3,836.0 1260.4,823.1 1260.6,809.5 1260.8,795.4 1260.9,781.0 1261.1,766.7 1261.2,752.6 1261.3,738.9 1261.5,726.0 1261.7,713.5 1261.8,701.0 1261.9,688.5 1262.1,676.0 1262.2,663.5 1262.3,651.0 1262.4,638.5 1262.6,626.0 1262.7,613.5 1262.9,601.0 1263.0,588.5 1263.2,576.0 1263.4,563.5 1263.6,551.0 1263.8,538.5 1264.0,526.0 1264.2,513.5 1264.4,501.0 1264.7,488.5 1264.9,476.0 1265.2,463.5 1265.4,451.0 1265.7,438.5 1266.0,426.0 1266.3,413.2 1266.6,399.8 1266.8,386.0 1267.1,372.1 1267.4,358.1 1267.7,344.3 1268.0,330.9 1268.4,318.1 1268.8,306.0 1269.2,294.8 1269.7,284.8 1270.3,276.0 1270.7,270.6 1271.2,265.8 1271.7,261.4 1272.2,257.4 1272.8,253.6 1273.3,249.8 1273.9,246.0 1274.4,241.9 1274.9,237.6 1275.5,233.2 1276.1,228.7 1276.6,224.3 1277.2,220.0 1277.8,215.8 1278.4,211.9 1279.0,208.3 1279.8,203.7 1280.6,199.6 1281.5,195.7 1282.5,192.0 1284.4,186.2 1286.6,180.9 1289.1,176.4 1292.0,172.5 1295.2,169.6 1298.8,167.2 1302.7,165.2 1307.0,163.5 1311.9,162.2 1317.1,161.1 1321.2,160.2 1325.5,159.3 1330.0,158.5 1334.1,157.9 1338.4,157.4 1342.9,157.0 1347.6,156.6 1351.3,156.4 1355.1,156.1 1358.9,156.0 1363.0,155.8 1367.4,155.7 1372.2,155.6 1376.5,155.5 1381.1,155.4 1386.0,155.4 1391.1,155.3 1396.4,155.2 1402.0,155.2 1407.6,155.2 1413.4,155.1 1419.4,155.1 1425.3,155.1 1431.4,155.0 1437.4,155.0 1445.1,155.0 1453.0,154.9 1461.2,154.9 1469.6,154.9 1478.1,154.9 1486.8,154.9 1495.5,154.9 1504.2,154.8 1513.0,154.8 1521.7,154.8 1530.4,154.8 1538.9,154.8"/>
</g>
<g clip-path="url(#cr)" fill="none" stroke-miterlimit="10">
<polyline stroke="#ff0000" stroke-width="5.3" stroke-linejoin="bevel" stroke-dasharray="5.3 15.3" stroke-dashoffset="14.8" points="911.0,158.0 911.0,161.9 911.3,166.2 912.0,169.7 913.0,173.7 914.2,178.0 915.4,182.4 916.4,186.6 917.2,190.7 917.8,194.7 918.4,198.8 919.0,202.9 919.5,207.0 920.0,211.0 920.5,215.1 921.0,219.1 921.5,223.1 921.9,227.2 922.3,231.3 922.7,235.4 923.1,239.6 923.5,243.7 923.8,247.8 924.1,251.9 924.3,256.0 924.6,260.1 924.8,264.2 925.0,268.3 925.2,272.4 925.4,276.5 925.6,280.6 925.8,284.7 926.0,288.8 926.2,292.9 926.4,297.0 926.5,301.1 926.7,305.2 926.9,309.3 927.1,313.4 927.3,317.5 927.5,321.6 927.6,325.7 927.8,329.8 928.0,333.9 928.1,338.1 928.2,342.2 928.4,346.4 928.5,350.5 928.7,354.6 928.8,358.6 929.0,362.7 929.1,366.7 929.3,370.8 929.5,374.9 929.7,379.0 929.8,383.0 930.0,387.1 930.2,391.2 930.4,395.3 930.5,399.6 930.6,403.7 930.8,407.7 931.0,411.4 931.6,417.3 932.2,422.7"/>
<polyline stroke="#ff0000" stroke-width="5.3" stroke-linejoin="bevel" stroke-dasharray="5.3 15.3" stroke-dashoffset="14.6" points="932.2,422.7 932.8,418.3 933.4,413.4 933.6,409.9 933.8,405.9 934.0,401.7 934.1,397.5 934.3,393.3 934.5,389.2 934.6,385.1 934.8,381.0 935.0,376.9 935.1,372.8 935.2,368.7 935.4,364.6 935.5,360.5 935.6,356.4 935.7,352.3 935.8,348.1 935.9,344.0 936.0,339.8 936.2,335.6 936.3,331.5 936.5,327.4 936.6,323.4 936.8,319.3 936.9,315.3 937.1,311.2 937.2,307.1 937.3,303.0 937.4,298.9 937.6,294.8 937.7,290.7 937.9,286.6 938.1,282.5 938.3,278.3 938.5,274.2 938.7,270.1 938.9,266.0 939.1,261.9 939.3,257.7 939.5,253.6 939.7,249.5 939.8,245.4 939.9,241.3 940.0,237.2 940.2,233.1 940.4,229.0 940.7,224.9 941.0,220.7 941.4,216.6 941.9,212.4 942.5,208.3 943.2,204.2 944.1,200.1 945.0,196.0 946.0,191.9 946.9,187.9 947.9,182.8 948.8,177.7 949.9,172.8 951.4,168.7 954.4,164.2 958.0,160.8 962.3,158.4 967.3,156.8 971.6,156.0 976.4,155.6 982.0,155.3 985.3,155.1 989.0,155.0 993.1,155.0 997.3,154.9 1001.7,154.9 1006.3,154.9 1010.9,154.9 1015.4,154.9 1019.9,154.8 1024.2,154.8"/>
<polyline stroke="#ff0000" stroke-width="5.3" stroke-linejoin="bevel" stroke-dasharray="5.3 15.3" stroke-dashoffset="19.4" points="1024.2,154.8 1037.4,154.8 1050.8,154.8 1064.5,154.8 1078.2,154.8 1092.0,154.8 1105.6,154.8 1119.1,154.8 1132.3,154.8 1145.0,154.8 1157.3,154.9 1169.0,154.9 1180.0,155.0 1187.3,155.1 1194.3,155.1 1201.2,155.1 1207.9,155.2 1214.4,155.2 1220.7,155.3 1226.9,155.4 1232.8,155.5 1238.5,155.6 1244.1,155.8 1249.4,156.0 1254.6,156.3 1259.7,156.6 1264.5,157.0 1269.2,157.4 1273.6,157.9 1277.8,158.3 1282.0,158.9 1286.0,159.4 1290.0,160.0 1294.3,160.7 1298.4,161.5 1302.3,162.3 1306.2,163.2 1310.1,164.1 1314.0,164.9"/>
<polyline stroke="#ff0000" stroke-width="5.3" stroke-linejoin="bevel" stroke-dasharray="5.3 15.3" stroke-dashoffset="1.2" points="1314.0,164.9 1317.4,168.3 1320.5,172.0 1322.4,175.4 1324.0,179.1 1325.5,183.2 1326.7,186.8 1327.8,190.7 1328.9,194.7 1329.9,198.9 1330.8,203.0 1331.6,207.1 1332.2,211.2 1332.8,215.3 1333.3,219.5 1333.8,223.6 1334.2,227.7 1334.5,231.8 1334.8,235.9 1335.1,240.0 1335.4,244.1 1335.8,249.1 1336.2,254.0 1336.6,258.9 1336.9,263.9 1337.1,268.1 1337.3,272.4 1337.4,276.7 1337.6,280.9 1337.7,285.2 1337.8,289.3 1338.0,293.5 1338.1,297.6 1338.2,301.7 1338.4,305.8 1338.6,309.9 1338.8,313.9 1339.1,318.0 1339.3,322.0 1339.5,326.1 1339.7,330.2 1339.8,334.3 1340.0,338.3 1340.1,342.4 1340.2,346.5 1340.3,350.6 1340.4,354.7 1340.5,358.8 1340.6,362.9 1340.7,367.0 1340.8,371.1 1341.0,375.1 1341.2,379.2 1341.3,383.2 1341.5,387.3 1341.6,391.4 1341.8,395.5 1341.9,399.7 1342.1,403.8 1342.2,407.9 1342.4,412.0 1342.5,416.1 1342.7,420.2 1342.8,424.3 1343.0,428.4 1343.1,432.5 1343.3,436.7 1343.4,440.8 1343.5,444.9 1343.7,448.9 1344.0,453.4 1344.3,457.8 1344.7,462.1 1345.0,466.5"/>
<polyline stroke="#ff0000" stroke-width="5.3" stroke-linejoin="bevel" stroke-dasharray="5.3 15.3" stroke-dashoffset="20.3" points="1345.0,466.5 1345.3,463.4 1345.5,460.5 1345.7,456.7 1345.9,452.2 1346.1,447.4 1346.3,442.5 1346.4,438.9 1346.6,435.0 1346.7,430.8 1346.8,426.5 1347.0,422.1 1347.1,417.7 1347.2,413.4 1347.4,409.3 1347.5,405.4 1347.6,401.8 1347.7,397.3 1347.9,393.4 1348.0,389.6 1348.1,385.7 1348.3,381.2 1348.4,377.6 1348.6,373.7 1348.7,369.5 1348.9,365.1 1349.1,360.7 1349.2,356.2 1349.4,351.8 1349.5,347.6 1349.7,343.7 1349.8,340.1 1349.9,335.5 1350.0,331.4 1350.1,327.4 1350.2,323.5 1350.3,319.5 1350.5,315.4 1350.7,311.3 1351.0,307.1 1351.2,303.0 1351.4,298.9 1351.6,294.8 1351.7,290.7 1351.8,286.6 1352.0,282.5 1352.1,278.4 1352.2,274.3 1352.4,270.2 1352.5,266.1 1352.7,262.0 1352.9,257.9 1353.1,253.8 1353.4,249.7 1353.7,245.5 1354.0,241.4 1354.4,237.3 1354.8,233.2 1355.2,229.1 1355.7,224.9 1356.2,220.8 1356.7,216.7 1357.2,212.5 1357.7,208.3 1358.2,204.1 1358.9,200.0 1359.7,196.2 1361.2,191.1 1362.9,186.4 1365.0,182.0 1367.1,178.2 1369.5,174.8 1372.2,171.5 1375.3,168.2 1378.7,165.2 1382.6,162.7 1386.6,161.1 1390.9,159.9 1395.7,158.9 1400.9,158.1 1404.3,157.6 1407.8,157.2 1411.4,156.8 1415.2,156.6 1419.2,156.3 1423.4,156.1 1427.8,155.9 1432.5,155.7 1437.4,155.5 1444.1,155.3 1451.4,155.1 1459.2,155.0 1467.5,154.9 1476.1,154.9 1485.0,154.9 1494.0,154.9 1503.2,154.9 1512.3,154.9 1521.4,154.9 1530.3,154.8 1538.9,154.8"/>
</g>
<g clip-path="url(#cr)" fill="none" stroke-miterlimit="10">
<polyline stroke="#670748" stroke-width="5.3" stroke-linejoin="miter" stroke-dasharray="26 15.6 5.2 15.6" stroke-dashoffset="50.6" points="911.3,155.0 918.0,155.3 923.4,156.2 929.0,158.5 932.5,161.2 936.0,164.5 939.8,168.1 943.1,172.0 945.1,175.9 946.5,180.0 947.7,184.9 948.8,190.4 949.6,194.5 950.4,198.8 951.2,203.4 952.0,208.1 952.7,212.3 953.5,216.6 954.3,220.9 955.0,225.3 955.5,229.7 955.9,234.0 956.1,238.4 956.3,242.7 956.4,247.0 956.6,251.2 956.8,255.7 957.0,260.1 957.1,264.5 957.4,269.2 957.7,273.2 958.1,277.4 958.5,281.8 959.0,286.1 959.3,290.4 959.6,294.4 959.8,299.3 959.8,303.9 959.8,308.5 959.9,313.1 960.0,317.6 960.2,322.0 960.3,326.6 960.5,331.3 960.7,335.2 960.8,339.3 961.0,343.5 961.2,347.7 961.3,351.9 961.5,355.8 961.7,360.7 961.8,365.3 961.9,369.9 962.1,374.5 962.4,379.2 962.7,383.8 963.0,388.5 963.3,393.3 963.5,397.7 963.7,402.3 963.9,406.9 964.1,411.6 964.3,416.2"/>
<polyline stroke="#670748" stroke-width="5.3" stroke-linejoin="miter" stroke-dasharray="26 15.6 5.2 15.6" stroke-dashoffset="22.1" points="964.3,416.2 964.8,411.6 965.4,406.9 965.9,402.3 966.4,397.7 966.8,393.3 967.1,388.7 967.2,384.2 967.3,379.8 967.4,375.1 967.5,371.2 967.7,367.0 967.8,362.8 967.9,358.6 968.1,354.4 968.2,350.5 968.4,345.7 968.5,341.0 968.7,336.5 968.9,331.9 969.1,327.4 969.3,323.0 969.5,318.5 969.7,313.7 969.9,309.7 970.1,305.5 970.3,301.1 970.5,296.8 970.7,292.5 970.9,288.5 971.1,283.6 971.2,279.0 971.3,274.4 971.5,269.8 971.7,265.3 972.0,260.9 972.3,256.3 972.6,251.6 972.9,247.7 973.2,243.6 973.5,239.4 973.8,235.1 974.0,231.0 974.3,227.1 974.6,222.2 974.8,217.5 975.0,212.9 975.4,208.7 976.3,202.4 977.5,197.0 979.9,191.0 981.1,186.5 982.2,181.3 983.5,176.5 985.3,171.3 987.6,166.9 990.5,163.9 994.0,161.5 997.9,159.5 1002.5,158.0 1006.2,157.3 1010.4,156.7 1015.0,156.2 1019.7,155.8 1024.2,155.3"/>
<polyline stroke="#670748" stroke-width="5.3" stroke-linejoin="miter" stroke-dasharray="26 15.6 5.2 15.6" stroke-dashoffset="6.6" points="1024.2,155.3 1030.1,155.3 1035.9,155.2 1041.8,155.2 1047.7,155.2 1053.5,155.1 1059.4,155.1 1065.2,155.0 1071.1,155.0 1077.0,155.0 1082.8,154.9 1088.7,154.9 1094.5,154.9 1100.3,154.9 1106.3,154.9 1112.3,154.9 1118.3,154.9 1124.3,154.8 1130.3,154.8 1136.2,154.8 1142.0,154.9 1147.7,154.9 1153.3,154.9 1158.6,154.9 1163.8,154.9 1168.4,154.9 1173.0,154.9 1177.4,155.0 1181.6,155.0 1185.8,155.0 1189.9,155.1 1193.9,155.1 1197.9,155.1 1201.7,155.2 1205.5,155.2 1210.5,155.2 1215.3,155.2 1220.0,155.3 1224.6,155.3 1229.0,155.3 1233.2,155.4 1238.2,155.5 1243.0,155.7 1247.5,155.8 1252.0,156.0 1257.1,156.2 1262.1,156.3 1267.2,156.6 1271.6,156.9 1276.0,157.2 1280.5,157.6 1285.0,158.0 1289.4,158.5 1293.9,159.0 1298.3,159.6 1302.7,160.1"/>
<polyline stroke="#670748" stroke-width="5.3" stroke-linejoin="miter" stroke-dasharray="26 15.6 5.2 15.6" stroke-dashoffset="37.8" points="1302.7,160.1 1307.3,161.9 1311.8,163.7 1316.0,165.5 1320.3,167.6 1324.0,170.2 1326.3,173.3 1328.2,177.0 1330.0,180.9 1332.0,185.2 1333.9,189.8 1335.4,194.6 1336.3,198.8 1337.0,203.2 1337.5,207.7 1338.0,212.2 1338.5,216.8 1339.0,221.5 1339.4,226.3 1339.9,231.2 1340.3,235.1 1340.7,239.2 1341.1,243.4 1341.5,247.6 1341.9,251.7 1342.2,255.6 1342.5,260.3 1342.7,264.8 1342.8,269.3 1343.0,273.8 1343.2,278.5 1343.3,283.1 1343.5,287.9 1343.7,292.8 1343.9,296.7 1344.2,300.8 1344.5,305.0 1344.8,309.2 1345.1,313.3 1345.3,317.2 1345.4,322.0 1345.5,326.7 1345.5,331.2 1345.6,335.8 1345.7,340.4 1345.7,345.0 1345.8,349.7 1346.0,354.5 1346.2,358.4 1346.5,362.5 1346.8,366.7 1347.1,370.9 1347.4,375.0 1347.6,378.9 1347.8,383.7 1347.9,388.2 1347.9,392.7 1348.0,397.2 1348.1,401.9 1348.1,406.5 1348.1,411.3 1348.3,416.2 1348.5,420.1 1348.8,424.2 1349.1,428.4 1349.5,432.6 1349.9,436.8 1350.2,441.0"/>
<polyline stroke="#670748" stroke-width="5.3" stroke-linejoin="miter" stroke-dasharray="26 15.6 5.2 15.6" stroke-dashoffset="25.3" points="1350.2,441.0 1350.4,436.8 1350.6,432.6 1350.9,428.4 1351.1,424.2 1351.3,420.0 1351.5,415.8 1351.7,411.7 1351.9,407.8 1352.1,404.0 1352.3,399.5 1352.4,395.1 1352.5,390.9 1352.7,386.8 1352.8,382.8 1352.9,378.9 1353.1,374.1 1353.2,369.6 1353.4,365.1 1353.6,360.6 1353.8,355.9 1354.0,351.3 1354.2,346.5 1354.4,341.6 1354.5,337.7 1354.7,333.6 1354.8,329.4 1354.9,325.2 1355.1,321.1 1355.2,317.2 1355.4,312.4 1355.5,307.9 1355.7,303.3 1355.9,298.6 1356.2,294.2 1356.5,289.7 1356.9,285.1 1357.2,280.5 1357.5,276.0 1357.7,271.8 1357.8,267.7 1357.9,263.6 1358.0,259.6 1358.2,255.6 1358.4,251.0 1358.7,246.4 1359.0,241.9 1359.4,237.3 1359.8,232.6 1360.2,227.9 1360.7,223.1 1361.3,218.2 1361.9,213.5 1362.5,208.6 1363.1,203.6 1363.8,198.9 1364.6,194.6 1365.6,190.0 1366.7,185.8 1368.0,182.0 1370.0,177.6 1372.2,173.6 1374.5,170.1 1377.0,167.0 1382.6,162.7 1390.0,160.0 1394.9,158.9 1400.9,158.1 1403.9,157.8 1407.2,157.5 1410.8,157.2 1414.6,156.9 1418.7,156.7 1423.1,156.4 1427.6,156.2 1432.4,156.0 1437.4,155.8 1444.1,155.6 1451.4,155.4 1459.2,155.3 1467.5,155.2 1476.1,155.1 1485.0,155.1 1494.0,155.0 1503.2,155.0 1512.3,155.0 1521.4,154.9 1530.3,154.9 1538.9,154.8"/>
<polygon fill="#670748" stroke="none" points="960.9,393.3 965.6,395.6 967.4,412.0 963.3,434.3"/>
<polygon fill="#670748" stroke="none" points="1347.2,436.0 1354.2,433.0 1351.7,459.6"/>
</g>
<path transform="translate(955.5,229.7)" d="M-13.9,0H13.9M0,-13.9V13.9M-9.8,-9.8L9.8,9.8M-9.8,9.8L9.8,-9.8" stroke="#670748" stroke-width="5.2" fill="none"/>
<path transform="translate(1024.2,155.1)" d="M-13.9,0H13.9M0,-13.9V13.9M-9.8,-9.8L9.8,9.8M-9.8,9.8L9.8,-9.8" stroke="#670748" stroke-width="5.2" fill="none"/>
<path transform="translate(1094.5,155.1)" d="M-13.9,0H13.9M0,-13.9V13.9M-9.8,-9.8L9.8,9.8M-9.8,9.8L9.8,-9.8" stroke="#670748" stroke-width="5.2" fill="none"/>
<path transform="translate(1163.8,155.1)" d="M-13.9,0H13.9M0,-13.9V13.9M-9.8,-9.8L9.8,9.8M-9.8,9.8L9.8,-9.8" stroke="#670748" stroke-width="5.2" fill="none"/>
<path transform="translate(1233.2,155.4)" d="M-13.9,0H13.9M0,-13.9V13.9M-9.8,-9.8L9.8,9.8M-9.8,9.8L9.8,-9.8" stroke="#670748" stroke-width="5.2" fill="none"/>
<path transform="translate(1302.7,160.1)" d="M-13.9,0H13.9M0,-13.9V13.9M-9.8,-9.8L9.8,9.8M-9.8,9.8L9.8,-9.8" stroke="#670748" stroke-width="5.2" fill="none"/>
<path transform="translate(1372.2,173.6)" d="M-13.9,0H13.9M0,-13.9V13.9M-9.8,-9.8L9.8,9.8M-9.8,9.8L9.8,-9.8" stroke="#670748" stroke-width="5.2" fill="none"/>
<path transform="translate(1441.5,155.6)" d="M-13.9,0H13.9M0,-13.9V13.9M-9.8,-9.8L9.8,9.8M-9.8,9.8L9.8,-9.8" stroke="#670748" stroke-width="5.2" fill="none"/>
<path transform="translate(1511.2,155.0)" d="M-13.9,0H13.9M0,-13.9V13.9M-9.8,-9.8L9.8,9.8M-9.8,9.8L9.8,-9.8" stroke="#670748" stroke-width="5.2" fill="none"/>
<g clip-path="url(#cr)" fill="none" stroke-miterlimit="10">
<polyline stroke="#0000ff" stroke-width="5.3" stroke-linejoin="miter" stroke-dasharray="26 15.6" stroke-dashoffset="39.8" points="909.0,135.0 910.7,137.0 913.9,140.6 918.0,145.0 921.4,148.3 925.1,151.8 928.5,155.5 931.5,159.6 934.3,163.9 936.7,168.1 939.1,173.0 941.0,178.0 942.4,182.5 943.5,187.2 944.3,191.6 944.5,195.9 944.4,200.0"/>
<polyline stroke="#0000ff" stroke-width="5.3" stroke-linejoin="bevel" points="944.3,208.1 947.0,222.0 951.4,242.6 955.1,220.2"/>
<polyline stroke="#0000ff" stroke-width="5.3" stroke-linejoin="miter" stroke-dasharray="26 15.6" stroke-dashoffset="33.3" points="955.4,212.0 955.5,208.1 955.8,203.7 956.2,200.2 956.7,196.0 957.3,191.5 958.0,186.9 958.7,182.6 959.6,178.9 961.6,172.9 964.0,168.0 966.6,164.2 970.0,161.0 973.1,158.8 976.9,156.9 982.0,155.3 986.8,154.5 992.8,154.0 999.8,153.7 1007.7,153.6 1016.1,153.6 1025.1,153.8 1034.3,154.0 1043.7,154.3 1052.9,154.5 1061.8,154.8 1070.3,154.9 1078.1,155.0 1084.5,155.0 1090.8,155.0 1097.0,155.0 1103.1,154.9 1109.1,154.9 1115.1,154.9 1121.0,154.9 1126.9,154.9 1132.7,154.9 1138.5,154.9 1144.3,155.0 1150.0,155.0 1155.3,155.0 1160.6,155.0 1166.0,155.1 1171.4,155.1 1176.7,155.1 1181.9,155.1 1187.1,155.2 1192.1,155.2 1197.0,155.3 1201.7,155.4 1206.2,155.6 1210.5,155.8 1215.4,156.1 1220.1,156.4 1224.6,156.8 1228.9,157.2 1232.9,157.6 1236.6,158.1 1240.0,158.6 1246.1,159.8 1251.6,161.1"/>
<polyline stroke="#0000ff" stroke-width="5.3" stroke-linejoin="miter" stroke-dasharray="26 15.6" stroke-dashoffset="1.4" points="1251.6,161.1 1255.5,162.6 1259.3,164.2 1263.0,166.0 1266.5,168.1 1269.9,170.4 1272.9,173.3 1275.6,177.5 1277.8,182.3 1279.8,187.0 1281.5,191.1 1283.1,195.1 1284.5,199.0 1286.6,204.3 1288.2,209.9 1288.4,213.9 1288.1,218.2 1287.8,222.7 1287.8,227.4 1288.4,231.9 1289.2,236.5 1290.2,241.3 1291.2,246.1 1292.0,251.0 1292.5,255.3 1292.9,259.7 1293.2,264.2 1293.6,268.7 1293.9,273.1 1294.2,277.6"/>
<polyline stroke="#0000ff" stroke-width="5.3" stroke-linejoin="miter" stroke-dasharray="26 15.6" stroke-dashoffset="11.7" points="1294.2,277.6 1294.5,282.2 1294.8,286.7 1295.0,292.1 1295.1,295.6 1295.2,299.4 1295.3,303.6 1295.4,308.0 1295.5,312.5 1295.6,317.1 1295.6,321.8 1295.7,326.4 1295.8,330.9 1295.9,335.1 1295.9,339.3 1296.0,343.6 1296.1,347.9 1296.1,352.2 1296.2,356.5 1296.2,360.8 1296.3,365.1 1296.4,369.4 1296.5,373.6 1296.6,377.8 1296.8,382.1 1296.9,386.5 1297.1,390.9 1297.3,395.3 1297.5,399.5 1297.6,403.7 1297.8,407.6 1297.9,411.3 1298.0,414.7 1298.1,419.3 1298.1,423.1 1298.1,427.1 1298.2,432.2 1298.3,437.0 1298.4,442.5 1298.6,448.8 1298.7,455.6 1298.9,462.8 1299.1,470.3 1299.3,477.9 1299.5,485.6 1299.7,493.3 1299.9,500.7 1300.1,507.8 1300.3,514.4 1300.4,519.9 1300.6,525.6 1300.7,531.2 1300.9,536.8 1301.0,542.4 1301.2,547.8 1301.3,553.1 1301.4,558.2 1301.6,563.1 1301.7,567.7 1301.8,572.0 1301.9,576.0 1302.0,581.0 1302.1,585.4 1302.2,589.5 1302.3,593.2 1302.4,596.7 1302.5,602.1 1302.6,607.0"/>
<polyline stroke="#0000ff" stroke-width="5.3" stroke-linejoin="miter" stroke-dasharray="26 15.6" stroke-dashoffset="14.0" points="1303.0,621.0 1303.2,616.9 1303.4,612.7 1303.5,608.4 1303.7,604.1 1303.9,599.9 1304.1,595.7 1304.3,591.5 1304.5,587.4 1304.6,583.5 1304.8,579.6 1304.9,576.0 1305.1,571.3 1305.2,567.0 1305.3,562.9 1305.4,558.8 1305.6,554.4 1305.7,549.5 1305.8,545.7 1305.9,541.8 1306.1,537.7 1306.2,533.5 1306.3,529.1 1306.5,524.6 1306.6,520.0 1306.7,515.4 1306.8,510.6 1307.0,505.8 1307.1,501.0 1307.2,496.2 1307.3,490.3 1307.4,484.1 1307.5,477.7 1307.6,471.1 1307.7,464.5 1307.8,457.8 1307.9,451.1 1308.0,444.5 1308.1,438.0 1308.2,431.8 1308.3,425.7 1308.4,420.0 1308.5,415.3 1308.6,410.7 1308.7,406.2 1308.8,401.9 1308.9,397.6 1309.0,393.3 1309.2,389.2 1309.3,385.2 1309.3,381.3 1309.4,377.4 1309.5,373.6 1309.6,368.9 1309.6,364.3 1309.6,359.8 1309.6,355.4 1309.6,351.3 1309.7,347.4 1309.8,343.9 1310.2,339.5 1310.6,335.7 1311.0,330.9 1311.2,327.6 1311.3,323.7 1311.4,319.4 1311.5,314.7 1311.6,309.7 1311.7,304.6 1311.8,299.4 1311.9,294.4 1312.0,289.6 1312.2,285.1 1312.3,281.1 1312.5,277.6 1313.0,271.7 1313.5,266.9 1314.0,261.7 1314.4,257.9 1314.7,253.8 1315.1,249.6 1315.5,245.4 1315.9,241.2 1316.3,237.3 1316.8,232.6 1317.4,228.1 1318.0,223.7 1318.6,219.0 1319.1,214.5 1319.6,209.9 1320.1,205.2 1320.8,200.5 1321.7,196.2 1322.9,191.6 1324.4,187.2 1326.0,183.1 1327.8,179.4 1331.2,174.3 1335.0,170.0 1338.8,166.8 1343.0,164.2 1346.7,162.6 1350.8,161.2 1355.0,160.0 1359.5,158.9 1364.3,158.0 1369.6,157.3 1373.3,156.9 1377.1,156.6 1381.2,156.3 1385.6,156.1 1390.2,155.9 1395.0,155.7 1400.0,155.5 1404.6,155.4 1409.4,155.3 1414.5,155.2 1419.7,155.1 1425.2,155.1 1430.8,155.0 1436.4,155.0 1442.2,155.0 1448.0,155.0 1453.7,154.9 1459.5,154.9 1465.1,154.9 1471.1,154.9 1477.1,154.9 1483.2,154.8 1489.4,154.8 1495.5,154.8 1501.7,154.8 1507.9,154.8 1514.1,154.8 1520.3,154.8 1526.5,154.8 1532.7,154.8 1538.9,154.8"/>
<polygon fill="#0000ff" stroke="none" points="1299.8,605.0 1305.1,605.0 1306.4,608.2 1301.1,631.7"/>
</g>
<path transform="translate(982.0,155.1)" d="M-9.8,-9.8L9.8,9.8M-9.8,9.8L9.8,-9.8" stroke="#0000ff" stroke-width="5.2" fill="none"/>
<path transform="translate(1078.1,155.1)" d="M-9.8,-9.8L9.8,9.8M-9.8,9.8L9.8,-9.8" stroke="#0000ff" stroke-width="5.2" fill="none"/>
<path transform="translate(1176.0,155.3)" d="M-9.8,-9.8L9.8,9.8M-9.8,9.8L9.8,-9.8" stroke="#0000ff" stroke-width="5.2" fill="none"/>
<path transform="translate(1272.9,173.3)" d="M-9.8,-9.8L9.8,9.8M-9.8,9.8L9.8,-9.8" stroke="#0000ff" stroke-width="5.2" fill="none"/>
<path transform="translate(1370.0,157.2)" d="M-9.8,-9.8L9.8,9.8M-9.8,9.8L9.8,-9.8" stroke="#0000ff" stroke-width="5.2" fill="none"/>
<path transform="translate(1466.1,155.2)" d="M-9.8,-9.8L9.8,9.8M-9.8,9.8L9.8,-9.8" stroke="#0000ff" stroke-width="5.2" fill="none"/>
<g clip-path="url(#cr)" fill="none" stroke-miterlimit="10">
<polyline stroke="#9400d3" stroke-width="4.3" stroke-linejoin="miter" points="910.7,138.0 911.5,145.0 912.8,150.3 914.5,156.0 915.7,160.4 916.8,164.8 918.0,169.0 919.3,173.7 920.6,177.5 922.1,180.3 923.7,177.5 926.0,170.0 927.2,165.7 928.5,161.5 930.8,156.2 933.6,153.4 937.5,152.3 944.0,151.8 949.3,151.9 955.1,152.3 959.6,152.8 964.3,153.3 970.0,153.8 973.3,154.0 977.0,154.1 981.0,154.2 985.3,154.3 989.8,154.4 994.5,154.4 999.4,154.4 1004.4,154.5 1009.4,154.5 1014.4,154.5 1019.3,154.6 1024.2,154.6 1029.7,154.6 1035.4,154.7 1041.1,154.7 1047.0,154.7 1052.9,154.7 1058.8,154.7 1064.8,154.7 1070.8,154.7 1076.7,154.7 1082.7,154.7 1088.6,154.8 1094.5,154.8 1100.4,154.8 1106.6,154.9 1113.0,154.9 1119.4,155.0 1125.9,155.0 1132.2,155.1 1138.4,155.1 1144.3,155.2 1149.9,155.3 1155.0,155.4 1159.7,155.5 1163.8,155.6 1168.5,155.8 1172.3,156.0 1175.9,156.3 1180.0,156.6 1183.8,156.9 1188.0,157.2 1192.4,157.5 1196.9,157.9 1201.5,158.4 1205.8,158.9 1210.0,159.5 1215.1,160.3 1220.1,161.2 1225.0,162.2 1229.5,163.4 1233.3,164.9 1238.2,167.9 1242.0,171.5 1245.5,175.9 1248.5,180.9 1250.5,185.0 1252.3,189.4 1254.0,194.0 1255.4,198.0 1256.7,202.1 1258.0,206.5 1259.2,211.4 1260.0,215.0 1260.7,219.0 1261.5,223.2 1262.2,227.7 1262.9,232.2 1263.5,236.7 1264.2,241.2 1264.8,245.5 1265.3,249.5 1265.9,253.9 1266.4,257.9 1266.9,261.7 1267.4,265.7 1267.8,270.4 1268.3,276.0 1268.9,284.2 1269.4,293.9 1270.0,304.9 1270.6,316.9 1271.1,329.8 1271.6,343.3 1272.1,357.3 1272.6,371.5 1273.1,385.6 1273.6,399.6 1274.0,413.1 1274.4,426.0 1274.8,438.5 1275.1,451.0 1275.4,463.5 1275.7,476.0 1275.9,488.5 1276.2,501.0 1276.4,513.5 1276.6,526.0 1276.9,538.5 1277.1,551.0 1277.3,563.5 1277.5,576.0 1277.7,589.0 1277.9,602.7 1278.1,616.9 1278.3,631.4 1278.5,645.9 1278.7,660.2 1278.9,673.9 1279.1,686.9 1279.2,698.8 1279.4,709.5 1279.6,718.6 1279.8,726.0 1280.0,731.6 1280.2,735.9 1280.4,739.6 1280.6,743.6 1281.0,739.6 1281.4,735.9 1281.8,731.6 1282.1,726.0 1282.4,718.6 1282.6,709.5 1282.9,698.8 1283.0,686.9 1283.2,673.9 1283.3,660.2 1283.5,645.9 1283.6,631.4 1283.8,616.9 1283.9,602.7 1284.1,589.0 1284.3,576.0 1284.5,563.5 1284.7,551.0 1285.0,538.5 1285.2,526.0 1285.4,513.5 1285.7,501.0 1285.9,488.5 1286.2,476.0 1286.5,463.5 1286.8,451.0 1287.1,438.5 1287.4,426.0 1287.8,413.2 1288.1,399.8 1288.6,386.0 1289.0,372.1 1289.4,358.1 1289.9,344.4 1290.3,331.0 1290.8,318.1 1291.2,306.0 1291.6,294.8 1292.0,284.8 1292.4,276.0 1292.6,270.6 1292.8,265.7 1293.0,261.4 1293.2,257.3 1293.4,253.5 1293.6,249.7 1293.9,245.9 1294.2,241.9 1294.6,237.4 1295.1,232.8 1295.6,228.2 1296.1,223.8 1296.7,219.4 1297.3,215.3 1298.0,211.4 1299.0,206.7 1300.1,202.3 1301.3,198.1 1302.6,193.9 1304.1,189.3 1305.8,184.6 1307.6,180.1 1309.5,176.4 1312.1,172.6 1315.0,169.5 1318.1,167.0 1321.7,164.9 1325.1,163.3 1329.0,161.8 1333.0,160.5 1337.6,159.5 1342.4,158.7 1347.6,158.1 1351.2,157.7 1354.9,157.4 1358.8,157.2 1362.9,157.0 1367.3,156.8 1372.2,156.6 1376.5,156.5 1381.1,156.3 1386.0,156.3 1391.1,156.2 1396.4,156.1 1402.0,156.1 1407.6,156.0 1413.4,156.0 1419.4,156.0 1425.3,155.9 1431.4,155.9 1437.4,155.8 1445.1,155.7 1453.0,155.6 1461.2,155.6 1469.6,155.5 1478.1,155.4 1486.8,155.3 1495.5,155.2 1504.2,155.1 1513.0,155.1 1521.7,155.0 1530.4,154.9 1538.9,154.8"/>
</g>
<circle cx="955.1" cy="152.3" r="6.45" stroke="#9400d3" stroke-width="5.3" fill="none"/>
<circle cx="1024.2" cy="155.1" r="6.45" stroke="#9400d3" stroke-width="5.3" fill="none"/>
<circle cx="1094.5" cy="155.1" r="6.45" stroke="#9400d3" stroke-width="5.3" fill="none"/>
<circle cx="1163.8" cy="155.4" r="6.45" stroke="#9400d3" stroke-width="5.3" fill="none"/>
<circle cx="1232.9" cy="165.7" r="6.45" stroke="#9400d3" stroke-width="5.3" fill="none"/>
<circle cx="1303.0" cy="194.0" r="6.45" stroke="#9400d3" stroke-width="5.3" fill="none"/>
<circle cx="1372.1" cy="157.2" r="6.45" stroke="#9400d3" stroke-width="5.3" fill="none"/>
<circle cx="1441.5" cy="155.6" r="6.45" stroke="#9400d3" stroke-width="5.3" fill="none"/>
<circle cx="1511.2" cy="155.0" r="6.45" stroke="#9400d3" stroke-width="5.3" fill="none"/>
<g stroke="#000" stroke-width="2.6"><line x1="938.8" y1="127.2" x2="938.8" y2="135.2"/><line x1="938.8" y1="934.5" x2="938.8" y2="926.5"/><line x1="993.3" y1="127.2" x2="993.3" y2="143.5"/><line x1="993.3" y1="934.5" x2="993.3" y2="918.2"/><line x1="1047.8" y1="127.2" x2="1047.8" y2="135.2"/><line x1="1047.8" y1="934.5" x2="1047.8" y2="926.5"/><line x1="1102.4" y1="127.2" x2="1102.4" y2="143.5"/><line x1="1102.4" y1="934.5" x2="1102.4" y2="918.2"/><line x1="1156.9" y1="127.2" x2="1156.9" y2="135.2"/><line x1="1156.9" y1="934.5" x2="1156.9" y2="926.5"/><line x1="1211.4" y1="127.2" x2="1211.4" y2="143.5"/><line x1="1211.4" y1="934.5" x2="1211.4" y2="918.2"/><line x1="1265.9" y1="127.2" x2="1265.9" y2="135.2"/><line x1="1265.9" y1="934.5" x2="1265.9" y2="926.5"/><line x1="1320.5" y1="127.2" x2="1320.5" y2="143.5"/><line x1="1320.5" y1="934.5" x2="1320.5" y2="918.2"/><line x1="1375.0" y1="127.2" x2="1375.0" y2="135.2"/><line x1="1375.0" y1="934.5" x2="1375.0" y2="926.5"/><line x1="1429.5" y1="127.2" x2="1429.5" y2="143.5"/><line x1="1429.5" y1="934.5" x2="1429.5" y2="918.2"/><line x1="1484.1" y1="127.2" x2="1484.1" y2="135.2"/><line x1="1484.1" y1="934.5" x2="1484.1" y2="926.5"/><line x1="1538.6" y1="127.2" x2="1538.6" y2="143.5"/><line x1="1538.6" y1="934.5" x2="1538.6" y2="918.2"/></g>
<g stroke="#000" stroke-width="1.2"><line x1="911.5" y1="155.0" x2="927.8" y2="155.0"/><line x1="1538.6" y1="155.0" x2="1522.3" y2="155.0"/><line x1="911.5" y1="238.6" x2="927.8" y2="238.6"/><line x1="1538.6" y1="238.6" x2="1522.3" y2="238.6"/><line x1="911.5" y1="322.1" x2="927.8" y2="322.1"/><line x1="1538.6" y1="322.1" x2="1522.3" y2="322.1"/><line x1="911.5" y1="405.6" x2="927.8" y2="405.6"/><line x1="1538.6" y1="405.6" x2="1522.3" y2="405.6"/><line x1="911.5" y1="489.1" x2="927.8" y2="489.1"/><line x1="1538.6" y1="489.1" x2="1522.3" y2="489.1"/><line x1="911.5" y1="572.6" x2="927.8" y2="572.6"/><line x1="1538.6" y1="572.6" x2="1522.3" y2="572.6"/><line x1="911.5" y1="656.1" x2="927.8" y2="656.1"/><line x1="1538.6" y1="656.1" x2="1522.3" y2="656.1"/><line x1="911.5" y1="739.6" x2="927.8" y2="739.6"/><line x1="1538.6" y1="739.6" x2="1522.3" y2="739.6"/><line x1="911.5" y1="823.1" x2="927.8" y2="823.1"/><line x1="1538.6" y1="823.1" x2="1522.3" y2="823.1"/><line x1="911.5" y1="906.7" x2="927.8" y2="906.7"/><line x1="1538.6" y1="906.7" x2="1522.3" y2="906.7"/><line x1="911.5" y1="196.8" x2="919.6" y2="196.8"/><line x1="1538.6" y1="196.8" x2="1530.5" y2="196.8"/><line x1="911.5" y1="280.3" x2="919.6" y2="280.3"/><line x1="1538.6" y1="280.3" x2="1530.5" y2="280.3"/><line x1="911.5" y1="363.8" x2="919.6" y2="363.8"/><line x1="1538.6" y1="363.8" x2="1530.5" y2="363.8"/><line x1="911.5" y1="447.3" x2="919.6" y2="447.3"/><line x1="1538.6" y1="447.3" x2="1530.5" y2="447.3"/><line x1="911.5" y1="530.9" x2="919.6" y2="530.9"/><line x1="1538.6" y1="530.9" x2="1530.5" y2="530.9"/><line x1="911.5" y1="614.4" x2="919.6" y2="614.4"/><line x1="1538.6" y1="614.4" x2="1530.5" y2="614.4"/><line x1="911.5" y1="697.9" x2="919.6" y2="697.9"/><line x1="1538.6" y1="697.9" x2="1530.5" y2="697.9"/><line x1="911.5" y1="781.4" x2="919.6" y2="781.4"/><line x1="1538.6" y1="781.4" x2="1530.5" y2="781.4"/><line x1="911.5" y1="864.9" x2="919.6" y2="864.9"/><line x1="1538.6" y1="864.9" x2="1530.5" y2="864.9"/></g>
<rect x="911.5" y="127.2" width="627.1" height="807.3" fill="none" stroke="#000" stroke-width="2.7"/>
<g text-anchor="end">
<text transform="translate(144,195.4) scale(1,1.04)">0.12</text>
<text transform="translate(144,278.2) scale(1,1.04)">0.09</text>
<text transform="translate(144,361.0) scale(1,1.04)">0.06</text>
<text transform="translate(144,443.8) scale(1,1.04)">0.03</text>
<text transform="translate(144,526.6) scale(1,1.04)">0</text>
<text transform="translate(144,609.4) scale(1,1.04)">-0.03</text>
<text transform="translate(144,692.2) scale(1,1.04)">-0.06</text>
<text transform="translate(144,775.0) scale(1,1.04)">-0.09</text>
<text transform="translate(144,857.8) scale(1,1.04)">-0.12</text>
<text transform="translate(144,940.6) scale(1,1.04)">-0.15</text>
<text transform="translate(898.6,168.0) scale(1,1.04)">0</text>
<text transform="translate(898.6,251.6) scale(1,1.04)">-0.03</text>
<text transform="translate(898.6,335.1) scale(1,1.04)">-0.06</text>
<text transform="translate(898.6,418.6) scale(1,1.04)">-0.09</text>
<text transform="translate(898.6,502.1) scale(1,1.04)">-0.12</text>
<text transform="translate(898.6,585.6) scale(1,1.04)">-0.15</text>
<text transform="translate(898.6,669.1) scale(1,1.04)">-0.18</text>
<text transform="translate(898.6,752.6) scale(1,1.04)">-0.21</text>
<text transform="translate(898.6,836.1) scale(1,1.04)">-0.24</text>
<text transform="translate(898.6,919.7) scale(1,1.04)">-0.27</text>
</g>
<g text-anchor="middle">
<text transform="translate(238.6,967.6) scale(1,1.04)">40</text>
<text transform="translate(993.7,974.5) scale(1,1.04)">40</text>
<text transform="translate(347.5,967.6) scale(1,1.04)">80</text>
<text transform="translate(1102.8,974.5) scale(1,1.04)">80</text>
<text transform="translate(456.4,967.6) scale(1,1.04)">120</text>
<text transform="translate(1211.8,974.5) scale(1,1.04)">120</text>
<text transform="translate(565.2,967.6) scale(1,1.04)">160</text>
<text transform="translate(1320.9,974.5) scale(1,1.04)">160</text>
<text transform="translate(674.1,967.6) scale(1,1.04)">200</text>
<text transform="translate(1429.9,974.5) scale(1,1.04)">200</text>
<text transform="translate(782.9,967.6) scale(1,1.04)">240</text>
<text transform="translate(1539.0,974.5) scale(1,1.04)">240</text>
<text x="470" y="1007.8">Photon energy (in meV)</text>
<text x="1225.6" y="1015.2">Photon energy (in meV)</text>
</g>
<text x="254.8" y="104.1">Real<tspan dx="0.5"/><tspan font-size="43">χ</tspan><tspan dx="2" font-size="27" dy="-22.5">(3)</tspan></text>
<text x="1239.2" y="106.8">Im<tspan font-size="43">χ</tspan><tspan dx="2" font-size="27" dy="-22.8">(3)</tspan></text>
<text y="63.6" font-size="41.7"><tspan x="670.6">γ</tspan><tspan x="684.9" dy="2.6">=</tspan><tspan x="706.8" dy="-2.6">0</tspan></text>
<text x="767" y="26.4">R<tspan font-size="27" dy="15">s</tspan><tspan dy="-15">=3 nm</tspan></text>
<text x="771.8" y="86.1">R<tspan font-size="27" dy="14.5">c</tspan><tspan dy="-14.5">=2 nm</tspan></text>
<text transform="translate(41.2,669.5) rotate(-90)"><tspan font-size="43">χ</tspan><tspan dx="2" font-size="27" dy="-22.8">(3)</tspan><tspan dy="22.8">(x 10</tspan><tspan font-size="27" dy="-21.5">-16</tspan><tspan dy="21.5"> m</tspan><tspan font-size="27" dy="-21.5">2</tspan><tspan dy="21.5">/V</tspan><tspan font-size="27" dy="-21.5">2</tspan><tspan dy="21.5">)</tspan></text>
<g fill="none">
<line x1="1464.4" y1="661.9" x2="1519.5" y2="661.9" stroke="#000000" stroke-width="4.8"/>
<line x1="1464.4" y1="717.6" x2="1519.5" y2="717.6" stroke="#ff0000" stroke-width="5.3" stroke-dasharray="5.3 15.3"/>
<line x1="1464.4" y1="773.6" x2="1519.5" y2="773.6" stroke="#670748" stroke-width="5.3" stroke-dasharray="5.2 15.6 26 15.6"/>
<line x1="1464.4" y1="829.6" x2="1519.5" y2="829.6" stroke="#0000ff" stroke-width="5.3" stroke-dasharray="26 15.6"/>
<line x1="1464.4" y1="885.5" x2="1519.5" y2="885.5" stroke="#9400d3" stroke-width="4.3"/>
</g>
<path transform="translate(1464.4,773.6)" d="M-13.9,0H13.9M0,-13.9V13.9M-9.8,-9.8L9.8,9.8M-9.8,9.8L9.8,-9.8" stroke="#670748" stroke-width="5.2" fill="none"/><path transform="translate(1519.5,773.6)" d="M-13.9,0H13.9M0,-13.9V13.9M-9.8,-9.8L9.8,9.8M-9.8,9.8L9.8,-9.8" stroke="#670748" stroke-width="5.2" fill="none"/>
<path transform="translate(1464.4,829.6)" d="M-9.8,-9.8L9.8,9.8M-9.8,9.8L9.8,-9.8" stroke="#0000ff" stroke-width="5.2" fill="none"/><path transform="translate(1519.5,829.6)" d="M-9.8,-9.8L9.8,9.8M-9.8,9.8L9.8,-9.8" stroke="#0000ff" stroke-width="5.2" fill="none"/>
<circle cx="1464.4" cy="885.5" r="6.45" stroke="#9400d3" stroke-width="5.3" fill="none"/><circle cx="1519.5" cy="885.5" r="6.45" stroke="#9400d3" stroke-width="5.3" fill="none"/>
<text x="1547.6" y="666.7">z<tspan font-size="27" dy="15">0</tspan><tspan dy="-15">=0 nm</tspan></text>
<text x="1547.6" y="722.4">z<tspan font-size="27" dy="15">0</tspan><tspan dy="-15">=1 nm</tspan></text>
<text x="1547.6" y="778.4">z<tspan font-size="27" dy="15">0</tspan><tspan dy="-15">=1.5 nm</tspan></text>
<text x="1547.6" y="834.4">z<tspan font-size="27" dy="15">0</tspan><tspan dy="-15">=2.5 nm</tspan></text>
<text x="1547.6" y="890.3">z<tspan font-size="27" dy="15">0</tspan><tspan dy="-15">=3 nm</tspan></text>
</svg>
</body></html>
